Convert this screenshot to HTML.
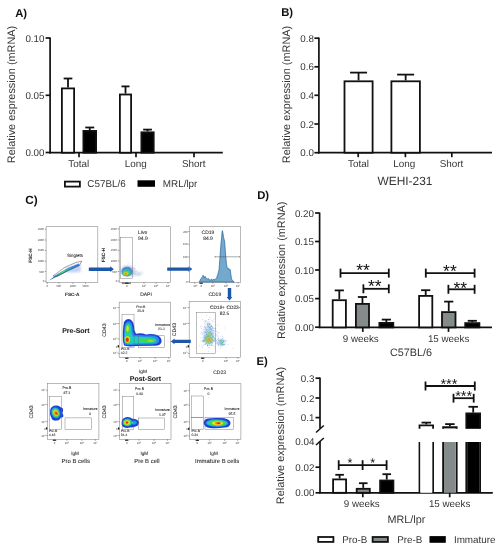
<!DOCTYPE html>
<html><head><meta charset="utf-8"><title>Figure</title>
<style>
html,body{margin:0;padding:0;background:#fff;}
svg{display:block;font-family:"Liberation Sans",Arial,sans-serif;text-rendering:geometricPrecision;}
</style></head><body>
<svg width="500" height="550" viewBox="0 0 500 550">
<defs>
<filter id="b1" x="-30%" y="-30%" width="160%" height="160%"><feGaussianBlur stdDeviation="0.9"/></filter>
<filter id="b2" x="-30%" y="-30%" width="160%" height="160%"><feGaussianBlur stdDeviation="0.5"/></filter>
<filter id="b3" x="-30%" y="-30%" width="160%" height="160%"><feGaussianBlur stdDeviation="1.6"/></filter>
<filter id="soft" x="-5%" y="-5%" width="110%" height="110%"><feGaussianBlur stdDeviation="0.35"/></filter>
</defs>
<rect width="500" height="550" fill="#fff"/>

<g id="panelA">
<text x="15.2" y="16.8" font-size="11.3" text-anchor="start" font-weight="bold" fill="#111">A)</text>
<text x="15" y="94.5" font-size="10.9" text-anchor="middle" font-weight="normal" fill="#363636" transform="rotate(-90 15 94.5)">Relative espression (mRNA)</text>
<line x1="50.1" y1="37.5" x2="50.1" y2="153.5" stroke="#111" stroke-width="1.7" stroke-linecap="butt"/>
<line x1="49.300000000000004" y1="152.7" x2="222.8" y2="152.7" stroke="#111" stroke-width="1.7" stroke-linecap="butt"/>
<line x1="45.6" y1="38" x2="50.1" y2="38" stroke="#111" stroke-width="1.7" stroke-linecap="butt"/>
<text x="44.5" y="41.5" font-size="9.8" text-anchor="end" font-weight="normal" fill="#363636">0.10</text>
<line x1="45.6" y1="95.3" x2="50.1" y2="95.3" stroke="#111" stroke-width="1.7" stroke-linecap="butt"/>
<text x="44.5" y="98.8" font-size="9.8" text-anchor="end" font-weight="normal" fill="#363636">0.05</text>
<line x1="45.6" y1="152.5" x2="50.1" y2="152.5" stroke="#111" stroke-width="1.7" stroke-linecap="butt"/>
<text x="44.5" y="156.0" font-size="9.8" text-anchor="end" font-weight="normal" fill="#363636">0.00</text>
<line x1="79" y1="152.7" x2="79" y2="157.2" stroke="#111" stroke-width="1.7" stroke-linecap="butt"/>
<text x="78.7" y="167.1" font-size="9.9" text-anchor="middle" font-weight="normal" fill="#363636">Total</text>
<line x1="136" y1="152.7" x2="136" y2="157.2" stroke="#111" stroke-width="1.7" stroke-linecap="butt"/>
<text x="135.7" y="167.1" font-size="9.9" text-anchor="middle" font-weight="normal" fill="#363636">Long</text>
<line x1="194" y1="152.7" x2="194" y2="157.2" stroke="#111" stroke-width="1.7" stroke-linecap="butt"/>
<text x="193.7" y="167.1" font-size="9.9" text-anchor="middle" font-weight="normal" fill="#363636">Short</text>
<line x1="68.0" y1="78.5" x2="68.0" y2="87.5" stroke="#111" stroke-width="1.8" stroke-linecap="butt"/>
<line x1="63.66" y1="78.5" x2="72.34" y2="78.5" stroke="#111" stroke-width="1.8" stroke-linecap="butt"/>
<rect x="61.9" y="88.4" width="12.2" height="64.29999999999998" fill="#fff" stroke="#111" stroke-width="1.8"/>
<line x1="89.75" y1="127.5" x2="89.75" y2="130" stroke="#111" stroke-width="1.8" stroke-linecap="butt"/>
<line x1="85.255" y1="127.5" x2="94.245" y2="127.5" stroke="#111" stroke-width="1.8" stroke-linecap="butt"/>
<rect x="83.4" y="130.9" width="12.7" height="21.79999999999999" fill="#000" stroke="#111" stroke-width="1.8"/>
<line x1="125.5" y1="86.4" x2="125.5" y2="93.6" stroke="#111" stroke-width="1.8" stroke-linecap="butt"/>
<line x1="121.47" y1="86.4" x2="129.53" y2="86.4" stroke="#111" stroke-width="1.8" stroke-linecap="butt"/>
<rect x="119.9" y="94.5" width="11.2" height="58.199999999999996" fill="#fff" stroke="#111" stroke-width="1.8"/>
<line x1="147.55" y1="129.6" x2="147.55" y2="131.4" stroke="#111" stroke-width="1.8" stroke-linecap="butt"/>
<line x1="143.179" y1="129.6" x2="151.92100000000002" y2="129.6" stroke="#111" stroke-width="1.8" stroke-linecap="butt"/>
<rect x="141.4" y="132.3" width="12.299999999999994" height="20.399999999999984" fill="#000" stroke="#111" stroke-width="1.8"/>
<rect x="64.9" y="181.6" width="15" height="5" fill="#fff" stroke="#111" stroke-width="1.8"/>
<text x="87.3" y="187.2" font-size="9.9" text-anchor="start" font-weight="normal" fill="#363636">C57BL/6</text>
<rect x="137.5" y="180.3" width="17.5" height="6.5" fill="#000"/>
<text x="162.8" y="186.8" font-size="9.9" text-anchor="start" font-weight="normal" fill="#363636">MRL/lpr</text>
</g>
<g id="panelB">
<text x="281.2" y="15.9" font-size="11.3" text-anchor="start" font-weight="bold" fill="#111">B)</text>
<text x="289.8" y="94.5" font-size="10.9" text-anchor="middle" font-weight="normal" fill="#363636" transform="rotate(-90 289.8 94.5)">Relative expression (mRNA)</text>
<line x1="318.9" y1="37.5" x2="318.9" y2="153.5" stroke="#111" stroke-width="1.7" stroke-linecap="butt"/>
<line x1="318.09999999999997" y1="152.7" x2="492" y2="152.7" stroke="#111" stroke-width="1.7" stroke-linecap="butt"/>
<line x1="314.4" y1="38.2" x2="318.9" y2="38.2" stroke="#111" stroke-width="1.7" stroke-linecap="butt"/>
<text x="313.9" y="41.7" font-size="9.8" text-anchor="end" font-weight="normal" fill="#363636">0.8</text>
<line x1="314.4" y1="66.8" x2="318.9" y2="66.8" stroke="#111" stroke-width="1.7" stroke-linecap="butt"/>
<text x="313.9" y="70.3" font-size="9.8" text-anchor="end" font-weight="normal" fill="#363636">0.6</text>
<line x1="314.4" y1="95.3" x2="318.9" y2="95.3" stroke="#111" stroke-width="1.7" stroke-linecap="butt"/>
<text x="313.9" y="98.8" font-size="9.8" text-anchor="end" font-weight="normal" fill="#363636">0.4</text>
<line x1="314.4" y1="124" x2="318.9" y2="124" stroke="#111" stroke-width="1.7" stroke-linecap="butt"/>
<text x="313.9" y="127.5" font-size="9.8" text-anchor="end" font-weight="normal" fill="#363636">0.2</text>
<line x1="314.4" y1="152.7" x2="318.9" y2="152.7" stroke="#111" stroke-width="1.7" stroke-linecap="butt"/>
<text x="313.9" y="156.2" font-size="9.8" text-anchor="end" font-weight="normal" fill="#363636">0.0</text>
<line x1="358.2" y1="152.7" x2="358.2" y2="157.2" stroke="#111" stroke-width="1.7" stroke-linecap="butt"/>
<text x="358.5" y="167.29999999999998" font-size="9.9" text-anchor="middle" font-weight="normal" fill="#363636">Total</text>
<line x1="405.4" y1="152.7" x2="405.4" y2="157.2" stroke="#111" stroke-width="1.7" stroke-linecap="butt"/>
<text x="404.3" y="167.29999999999998" font-size="9.9" text-anchor="middle" font-weight="normal" fill="#363636">Long</text>
<line x1="451.8" y1="152.7" x2="451.8" y2="157.2" stroke="#111" stroke-width="1.7" stroke-linecap="butt"/>
<text x="451.5" y="167.29999999999998" font-size="9.9" text-anchor="middle" font-weight="normal" fill="#363636">Short</text>
<line x1="358.55" y1="72.6" x2="358.55" y2="80.4" stroke="#111" stroke-width="1.8" stroke-linecap="butt"/>
<line x1="350.05" y1="72.6" x2="367.05" y2="72.6" stroke="#111" stroke-width="1.8" stroke-linecap="butt"/>
<rect x="344.5" y="81.30000000000001" width="28.099999999999977" height="71.39999999999998" fill="#fff" stroke="#111" stroke-width="1.8"/>
<line x1="405.65" y1="74.6" x2="405.65" y2="80.4" stroke="#111" stroke-width="1.8" stroke-linecap="butt"/>
<line x1="397.15" y1="74.6" x2="414.15" y2="74.6" stroke="#111" stroke-width="1.8" stroke-linecap="butt"/>
<rect x="391.4" y="81.30000000000001" width="28.50000000000001" height="71.39999999999998" fill="#fff" stroke="#111" stroke-width="1.8"/>
<text x="405" y="185.2" font-size="11.9" text-anchor="middle" font-weight="normal" fill="#363636">WEHI-231</text>
</g>
<g id="panelC">
<text x="25.3" y="204.2" font-size="11.8" text-anchor="start" font-weight="bold" fill="#111">C)</text>
<rect x="46.1" y="226.7" width="51.699999999999996" height="55.900000000000034" fill="none" stroke="#8a8a8a" stroke-width="0.6"/>
<line x1="44.800000000000004" y1="229.3" x2="46.1" y2="229.3" stroke="#444" stroke-width="0.5" stroke-linecap="butt"/>
<text x="44.2" y="230.3" font-size="2.8" text-anchor="end" font-weight="normal" fill="#3a3a3a">250K</text>
<line x1="44.800000000000004" y1="240" x2="46.1" y2="240" stroke="#444" stroke-width="0.5" stroke-linecap="butt"/>
<text x="44.2" y="241.0" font-size="2.8" text-anchor="end" font-weight="normal" fill="#3a3a3a">200K</text>
<line x1="44.800000000000004" y1="250.4" x2="46.1" y2="250.4" stroke="#444" stroke-width="0.5" stroke-linecap="butt"/>
<text x="44.2" y="251.4" font-size="2.8" text-anchor="end" font-weight="normal" fill="#3a3a3a">150K</text>
<line x1="44.800000000000004" y1="261.3" x2="46.1" y2="261.3" stroke="#444" stroke-width="0.5" stroke-linecap="butt"/>
<text x="44.2" y="262.3" font-size="2.8" text-anchor="end" font-weight="normal" fill="#3a3a3a">100K</text>
<line x1="44.800000000000004" y1="271.5" x2="46.1" y2="271.5" stroke="#444" stroke-width="0.5" stroke-linecap="butt"/>
<text x="44.2" y="272.5" font-size="2.8" text-anchor="end" font-weight="normal" fill="#3a3a3a">50K</text>
<line x1="44.800000000000004" y1="281.3" x2="46.1" y2="281.3" stroke="#444" stroke-width="0.5" stroke-linecap="butt"/>
<text x="44.2" y="282.3" font-size="2.8" text-anchor="end" font-weight="normal" fill="#3a3a3a">0</text>
<line x1="47.4" y1="282.6" x2="47.4" y2="283.90000000000003" stroke="#444" stroke-width="0.5" stroke-linecap="butt"/>
<text x="47.4" y="286.90000000000003" font-size="2.8" text-anchor="middle" font-weight="normal" fill="#3a3a3a">0</text>
<line x1="59" y1="282.6" x2="59" y2="283.90000000000003" stroke="#444" stroke-width="0.5" stroke-linecap="butt"/>
<text x="59" y="286.90000000000003" font-size="2.8" text-anchor="middle" font-weight="normal" fill="#3a3a3a">50K</text>
<line x1="73" y1="282.6" x2="73" y2="283.90000000000003" stroke="#444" stroke-width="0.5" stroke-linecap="butt"/>
<text x="73" y="286.90000000000003" font-size="2.8" text-anchor="middle" font-weight="normal" fill="#3a3a3a">100K</text>
<line x1="85.5" y1="282.6" x2="85.5" y2="283.90000000000003" stroke="#444" stroke-width="0.5" stroke-linecap="butt"/>
<text x="85.5" y="286.90000000000003" font-size="2.8" text-anchor="middle" font-weight="normal" fill="#3a3a3a">150K</text>
<g filter="url(#b1)"><path d="M66 268.5 L78 263.5 L81 266 L80.5 272 L72 272.5 L64 272 Z" fill="#a9bdec" opacity="0.7"/></g>
<g filter="url(#b2)"><path d="M48.6 280.8 L57 274.2 L68 268 L79 263.6 L79.6 265.6 L69 270.6 L58 276.2 Z" fill="#3f7fe2"/><path d="M54 276.8 L62 271.6 L71 267.4 L71 268.8 L62 273.2 Z" fill="#2ac4a6"/><path d="M57.5 274.4 L63 271.2 L67.5 269.2 L63 272.2 Z" fill="#7cdc4c"/></g>
<path d="M53 276 L64 267.8 L76 262.4 L81.8 261.2 L79.4 265.6 L68 270.6 L57 276.4 Z" fill="none" stroke="#333" stroke-width="0.45"/>
<text x="75" y="256.8" font-size="4.5" text-anchor="middle" font-weight="normal" fill="#262626" stroke="#262626" stroke-width="0.07">Singlets</text>
<text x="72.2" y="296" font-size="4.7" text-anchor="middle" font-weight="bold" fill="#262626" stroke="#262626" stroke-width="0.07">FSC-A</text>
<text x="32" y="255.5" font-size="4.7" text-anchor="middle" font-weight="bold" fill="#262626" transform="rotate(-90 32 255.5)" stroke="#262626" stroke-width="0.07">FSC-H</text>
<path d="M88.8 267.5 H110.2 V266.3 L113.9 269.2 L110.2 272.09999999999997 V270.9 H88.8 Z" fill="#1d57a8"/>
<rect x="119.2" y="226.7" width="51.2" height="55.69999999999999" fill="none" stroke="#8a8a8a" stroke-width="0.6"/>
<line x1="117.9" y1="228.8" x2="119.2" y2="228.8" stroke="#444" stroke-width="0.5" stroke-linecap="butt"/>
<text x="117.3" y="229.8" font-size="2.8" text-anchor="end" font-weight="normal" fill="#3a3a3a">250K</text>
<line x1="117.9" y1="240" x2="119.2" y2="240" stroke="#444" stroke-width="0.5" stroke-linecap="butt"/>
<text x="117.3" y="241.0" font-size="2.8" text-anchor="end" font-weight="normal" fill="#3a3a3a">200K</text>
<line x1="117.9" y1="250.4" x2="119.2" y2="250.4" stroke="#444" stroke-width="0.5" stroke-linecap="butt"/>
<text x="117.3" y="251.4" font-size="2.8" text-anchor="end" font-weight="normal" fill="#3a3a3a">150K</text>
<line x1="117.9" y1="261" x2="119.2" y2="261" stroke="#444" stroke-width="0.5" stroke-linecap="butt"/>
<text x="117.3" y="262.0" font-size="2.8" text-anchor="end" font-weight="normal" fill="#3a3a3a">100K</text>
<line x1="117.9" y1="271.5" x2="119.2" y2="271.5" stroke="#444" stroke-width="0.5" stroke-linecap="butt"/>
<text x="117.3" y="272.5" font-size="2.8" text-anchor="end" font-weight="normal" fill="#3a3a3a">50K</text>
<line x1="117.9" y1="281" x2="119.2" y2="281" stroke="#444" stroke-width="0.5" stroke-linecap="butt"/>
<text x="117.3" y="282.0" font-size="2.8" text-anchor="end" font-weight="normal" fill="#3a3a3a">0</text>
<line x1="126.9" y1="282.4" x2="126.9" y2="283.7" stroke="#444" stroke-width="0.5" stroke-linecap="butt"/>
<text x="126.9" y="286.7" font-size="2.8" text-anchor="middle" font-weight="normal" fill="#3a3a3a">0</text>
<rect x="125.10000000000001" y="282.7" width="3.4" height="1.1" fill="#222"/>
<line x1="144" y1="282.4" x2="144" y2="283.7" stroke="#444" stroke-width="0.5" stroke-linecap="butt"/>
<text x="144" y="286.7" font-size="2.8" text-anchor="middle" font-weight="normal" fill="#3a3a3a">10<tspan dy="-1.0" font-size="2">3</tspan></text>
<line x1="156" y1="282.4" x2="156" y2="283.7" stroke="#444" stroke-width="0.5" stroke-linecap="butt"/>
<text x="156" y="286.7" font-size="2.8" text-anchor="middle" font-weight="normal" fill="#3a3a3a">10<tspan dy="-1.0" font-size="2">4</tspan></text>
<line x1="168" y1="282.4" x2="168" y2="283.7" stroke="#444" stroke-width="0.5" stroke-linecap="butt"/>
<text x="168" y="286.7" font-size="2.8" text-anchor="middle" font-weight="normal" fill="#3a3a3a">10<tspan dy="-1.0" font-size="2">5</tspan></text>
<rect x="121.8" y="282.7" width="9.2" height="0.9" fill="#333"/>
<clipPath id="c2"><rect x="119.5" y="255" width="40" height="22.2"/></clipPath><g clip-path="url(#c2)">
<ellipse cx="128" cy="271" rx="7.4" ry="5.6" fill="#a9bdec" opacity="0.75" transform="rotate(0 128 271)" filter="url(#b1)"/>
<ellipse cx="136.5" cy="273.6" rx="5.5" ry="2.2" fill="#b9caf0" opacity="0.6" transform="rotate(0 136.5 273.6)" filter="url(#b1)"/>
<ellipse cx="127" cy="271.6" rx="5.6" ry="4.9" fill="#4a86e2" opacity="1" transform="rotate(0 127 271.6)" filter="url(#b2)"/>
<ellipse cx="126.5" cy="272.6" rx="4.4" ry="3.5" fill="#2ab6b4" opacity="1" transform="rotate(0 126.5 272.6)" filter="url(#b2)"/>
<ellipse cx="126.2" cy="273.1" rx="3.4" ry="2.6" fill="#5cd048" opacity="1" transform="rotate(0 126.2 273.1)" filter="url(#b2)"/>
<ellipse cx="126" cy="273.5" rx="2.2" ry="1.6" fill="#e8cc20" opacity="1" transform="rotate(0 126 273.5)" filter="url(#b2)"/>
<ellipse cx="125.8" cy="273.7" rx="1.2" ry="0.9" fill="#f08a18" opacity="1" transform="rotate(0 125.8 273.7)" filter="url(#b2)"/>
</g>
<g opacity="0.5"><rect x="139.7" y="267.0" width="0.5" height="0.5" fill="#519bc5"/><rect x="120.3" y="276.5" width="0.5" height="0.5" fill="#519bc5"/><rect x="135.0" y="265.0" width="0.5" height="0.5" fill="#519bc5"/><rect x="126.9" y="260.2" width="0.5" height="0.5" fill="#519bc5"/><rect x="127.1" y="264.9" width="0.5" height="0.5" fill="#519bc5"/><rect x="128.8" y="273.9" width="0.5" height="0.5" fill="#519bc5"/><rect x="121.0" y="273.3" width="0.5" height="0.5" fill="#519bc5"/><rect x="137.7" y="269.7" width="0.5" height="0.5" fill="#519bc5"/><rect x="148.8" y="270.4" width="0.5" height="0.5" fill="#519bc5"/><rect x="134.9" y="275.7" width="0.5" height="0.5" fill="#519bc5"/><rect x="122.6" y="266.2" width="0.5" height="0.5" fill="#4f9dc3"/><rect x="124.1" y="265.1" width="0.5" height="0.5" fill="#4f9dc3"/><rect x="135.5" y="268.1" width="0.5" height="0.5" fill="#4d9fc1"/><rect x="141.1" y="270.6" width="0.5" height="0.5" fill="#4ca0bf"/><rect x="134.0" y="268.2" width="0.5" height="0.5" fill="#4ca1bf"/><rect x="143.3" y="272.3" width="0.5" height="0.5" fill="#48a4bb"/><rect x="142.5" y="271.1" width="0.5" height="0.5" fill="#47a6ba"/><rect x="122.0" y="271.3" width="0.5" height="0.5" fill="#46a7b8"/><rect x="132.5" y="267.1" width="0.5" height="0.5" fill="#48aab2"/><rect x="128.7" y="262.1" width="0.5" height="0.5" fill="#48aab2"/><rect x="128.2" y="262.9" width="0.5" height="0.5" fill="#48aab2"/><rect x="138.8" y="275.6" width="0.5" height="0.5" fill="#48aab1"/><rect x="125.4" y="268.7" width="0.5" height="0.5" fill="#49abae"/><rect x="129.1" y="267.6" width="0.5" height="0.5" fill="#4aacac"/><rect x="121.7" y="269.1" width="0.5" height="0.5" fill="#4aacac"/><rect x="126.9" y="270.9" width="0.5" height="0.5" fill="#4aacab"/><rect x="125.6" y="272.7" width="0.5" height="0.5" fill="#4bada9"/><rect x="132.2" y="263.7" width="0.5" height="0.5" fill="#4bada8"/><rect x="131.4" y="263.5" width="0.5" height="0.5" fill="#4bada8"/><rect x="128.1" y="271.0" width="0.5" height="0.5" fill="#4dafa5"/><rect x="127.9" y="268.4" width="0.5" height="0.5" fill="#4dafa3"/><rect x="122.0" y="269.9" width="0.5" height="0.5" fill="#4eb0a0"/><rect x="131.5" y="275.9" width="0.5" height="0.5" fill="#4fb19d"/><rect x="131.1" y="276.3" width="0.5" height="0.5" fill="#4fb19d"/><rect x="141.7" y="274.6" width="0.5" height="0.5" fill="#50b29b"/><rect x="135.4" y="273.5" width="0.5" height="0.5" fill="#51b399"/><rect x="129.1" y="270.2" width="0.5" height="0.5" fill="#52b497"/><rect x="123.5" y="271.9" width="0.5" height="0.5" fill="#53b593"/><rect x="137.0" y="275.7" width="0.5" height="0.5" fill="#54b691"/><rect x="142.1" y="273.3" width="0.5" height="0.5" fill="#55b790"/><rect x="126.6" y="268.8" width="0.5" height="0.5" fill="#56b88c"/><rect x="126.7" y="272.8" width="0.5" height="0.5" fill="#57b989"/><rect x="130.3" y="267.3" width="0.5" height="0.5" fill="#57b989"/><rect x="130.0" y="270.7" width="0.5" height="0.5" fill="#57b989"/><rect x="124.3" y="271.2" width="0.5" height="0.5" fill="#59bb84"/><rect x="123.7" y="270.9" width="0.5" height="0.5" fill="#5abc82"/><rect x="140.0" y="272.6" width="0.5" height="0.5" fill="#5abc82"/><rect x="138.5" y="272.3" width="0.5" height="0.5" fill="#5cbe7d"/><rect x="126.8" y="272.2" width="0.5" height="0.5" fill="#5cbe7d"/><rect x="125.9" y="266.6" width="0.5" height="0.5" fill="#60c271"/><rect x="141.3" y="273.4" width="0.5" height="0.5" fill="#61c370"/><rect x="137.3" y="274.4" width="0.5" height="0.5" fill="#64c46c"/><rect x="137.5" y="275.2" width="0.5" height="0.5" fill="#6ac469"/><rect x="135.1" y="271.5" width="0.5" height="0.5" fill="#6ec468"/><rect x="140.5" y="274.3" width="0.5" height="0.5" fill="#6fc467"/><rect x="127.1" y="267.4" width="0.5" height="0.5" fill="#6fc467"/><rect x="125.7" y="267.1" width="0.5" height="0.5" fill="#72c465"/><rect x="134.8" y="272.9" width="0.5" height="0.5" fill="#74c464"/><rect x="134.2" y="273.2" width="0.5" height="0.5" fill="#7dc460"/><rect x="132.6" y="272.7" width="0.5" height="0.5" fill="#81c45e"/><rect x="136.5" y="271.5" width="0.5" height="0.5" fill="#86c45c"/><rect x="132.7" y="274.1" width="0.5" height="0.5" fill="#87c45b"/><rect x="131.7" y="268.0" width="0.5" height="0.5" fill="#87c45b"/><rect x="133.7" y="271.7" width="0.5" height="0.5" fill="#90c457"/><rect x="139.7" y="274.2" width="0.5" height="0.5" fill="#93c455"/><rect x="137.9" y="273.5" width="0.5" height="0.5" fill="#93c455"/><rect x="138.1" y="273.0" width="0.5" height="0.5" fill="#99c452"/><rect x="136.0" y="271.2" width="0.5" height="0.5" fill="#9ac452"/><rect x="132.6" y="274.0" width="0.5" height="0.5" fill="#9bc451"/><rect x="130.7" y="268.4" width="0.5" height="0.5" fill="#a0c44f"/><rect x="126.6" y="267.5" width="0.5" height="0.5" fill="#a1c44f"/><rect x="133.6" y="272.0" width="0.5" height="0.5" fill="#a1c44e"/><rect x="130.9" y="269.4" width="0.5" height="0.5" fill="#a3c44d"/><rect x="136.2" y="271.5" width="0.5" height="0.5" fill="#a5c44c"/><rect x="131.3" y="268.1" width="0.5" height="0.5" fill="#acc449"/><rect x="130.9" y="269.8" width="0.5" height="0.5" fill="#acc449"/><rect x="132.8" y="273.4" width="0.5" height="0.5" fill="#b8c443"/><rect x="139.1" y="273.7" width="0.5" height="0.5" fill="#c0c43f"/><rect x="139.3" y="273.2" width="0.5" height="0.5" fill="#c4c43d"/><rect x="132.6" y="270.8" width="0.5" height="0.5" fill="#dfa92a"/><rect x="132.5" y="270.9" width="0.5" height="0.5" fill="#e89e23"/><rect x="131.8" y="270.5" width="0.5" height="0.5" fill="#e99d22"/><rect x="131.9" y="270.5" width="0.5" height="0.5" fill="#eb9a21"/><rect x="132.1" y="270.8" width="0.5" height="0.5" fill="#f0961e"/></g>
<rect x="120.2" y="237.3" width="12.30" height="41.10" fill="none" stroke="#666" stroke-width="0.42"/>
<text x="138" y="233.8" font-size="5" text-anchor="start" font-weight="normal" fill="#262626" stroke="#262626" stroke-width="0.07">Live</text>
<text x="138" y="239.6" font-size="5" text-anchor="start" font-weight="normal" fill="#262626" stroke="#262626" stroke-width="0.07">94.9</text>
<text x="146" y="295.8" font-size="5" text-anchor="middle" font-weight="normal" fill="#262626" stroke="#262626" stroke-width="0.07">DAPI</text>
<text x="104.6" y="255" font-size="4.7" text-anchor="middle" font-weight="bold" fill="#262626" transform="rotate(-90 104.6 255)" stroke="#262626" stroke-width="0.07">FSC-H</text>
<path d="M167.2 267.40000000000003 H188.60000000000002 V266.20000000000005 L192.3 269.1 L188.60000000000002 272.0 V270.8 H167.2 Z" fill="#1d57a8"/>
<rect x="189.5" y="226.7" width="51.19999999999999" height="55.69999999999999" fill="none" stroke="#8a8a8a" stroke-width="0.6"/>
<line x1="188.2" y1="231.5" x2="189.5" y2="231.5" stroke="#444" stroke-width="0.5" stroke-linecap="butt"/>
<text x="187.6" y="232.5" font-size="2.8" text-anchor="end" font-weight="normal" fill="#3a3a3a">200</text>
<line x1="188.2" y1="244.3" x2="189.5" y2="244.3" stroke="#444" stroke-width="0.5" stroke-linecap="butt"/>
<text x="187.6" y="245.3" font-size="2.8" text-anchor="end" font-weight="normal" fill="#3a3a3a">150</text>
<line x1="188.2" y1="257" x2="189.5" y2="257" stroke="#444" stroke-width="0.5" stroke-linecap="butt"/>
<text x="187.6" y="258.0" font-size="2.8" text-anchor="end" font-weight="normal" fill="#3a3a3a">100</text>
<line x1="188.2" y1="281.6" x2="189.5" y2="281.6" stroke="#444" stroke-width="0.5" stroke-linecap="butt"/>
<text x="187.6" y="282.6" font-size="2.8" text-anchor="end" font-weight="normal" fill="#3a3a3a">0</text>
<line x1="194.8" y1="282.4" x2="194.8" y2="283.7" stroke="#444" stroke-width="0.5" stroke-linecap="butt"/>
<text x="194.8" y="286.7" font-size="2.8" text-anchor="middle" font-weight="normal" fill="#3a3a3a">-10<tspan dy="-1.0" font-size="2">3</tspan></text>
<line x1="201.2" y1="282.4" x2="201.2" y2="283.7" stroke="#444" stroke-width="0.5" stroke-linecap="butt"/>
<text x="201.2" y="286.7" font-size="2.8" text-anchor="middle" font-weight="normal" fill="#3a3a3a">0</text>
<rect x="199.39999999999998" y="282.7" width="3.4" height="1.1" fill="#222"/>
<line x1="212.9" y1="282.4" x2="212.9" y2="283.7" stroke="#444" stroke-width="0.5" stroke-linecap="butt"/>
<text x="212.9" y="286.7" font-size="2.8" text-anchor="middle" font-weight="normal" fill="#3a3a3a">10<tspan dy="-1.0" font-size="2">3</tspan></text>
<line x1="226" y1="282.4" x2="226" y2="283.7" stroke="#444" stroke-width="0.5" stroke-linecap="butt"/>
<text x="226" y="286.7" font-size="2.8" text-anchor="middle" font-weight="normal" fill="#3a3a3a">10<tspan dy="-1.0" font-size="2">4</tspan></text>
<line x1="238" y1="282.4" x2="238" y2="283.7" stroke="#444" stroke-width="0.5" stroke-linecap="butt"/>
<text x="238" y="286.7" font-size="2.8" text-anchor="middle" font-weight="normal" fill="#3a3a3a">10<tspan dy="-1.0" font-size="2">5</tspan></text>
<path d="M199.3 282.0 L199.9 280.8 L200.6 279.2 L201.1 278.9 L201.5 277.8 L202.0 277.4 L202.5 276.8 L203.0 275.2 L203.6 275.9 L204.2 278.0 L204.8 276.8 L205.4 276.5 L206.0 278.6 L206.6 278.6 L207.1 279.2 L207.6 278.8 L208.0 279.1 L208.5 278.5 L209.0 279.4 L209.5 279.9 L210.0 279.6 L210.5 280.1 L211.0 280.1 L211.5 279.2 L211.9 280.2 L212.4 280.0 L212.9 279.6 L213.4 279.2 L213.9 280.2 L214.5 279.4 L215.0 279.5 L215.6 279.2 L216.2 278.4 L216.7 277.8 L217.1 275.8 L217.6 275.6 L218.1 272.9 L218.5 272.1 L219.0 270.0 L219.8 259.7 L220.4 251.0 L221.0 243.1 L221.5 239.0 L222.0 232.3 L222.4 230.6 L222.9 232.9 L223.6 237.5 L224.2 239.6 L224.7 242.0 L225.3 250.3 L225.8 257.0 L226.4 263.3 L227.0 267.1 L227.8 268.9 L228.6 268.2 L229.4 269.8 L229.9 269.9 L230.3 269.6 L230.9 274.7 L231.5 278.8 L232.1 279.9 L232.6 280.6 L233.2 281.1 L233.7 281.5 L234.3 282.0 Z" fill="#74a8cc" stroke="#25659e" stroke-width="0.7" stroke-linejoin="round"/>
<line x1="215" y1="256.8" x2="239.6" y2="256.8" stroke="#444" stroke-width="0.45" stroke-linecap="butt"/>
<line x1="215" y1="256" x2="215" y2="257.6" stroke="#444" stroke-width="0.45" stroke-linecap="butt"/>
<line x1="239.6" y1="256" x2="239.6" y2="257.6" stroke="#444" stroke-width="0.45" stroke-linecap="butt"/>
<text x="208" y="234.1" font-size="5" text-anchor="middle" font-weight="normal" fill="#262626" stroke="#262626" stroke-width="0.07">CD19</text>
<text x="208" y="240.2" font-size="5" text-anchor="middle" font-weight="normal" fill="#262626" stroke="#262626" stroke-width="0.07">84.9</text>
<text x="214.8" y="295.8" font-size="5" text-anchor="middle" font-weight="normal" fill="#262626" stroke="#262626" stroke-width="0.07">CD19</text>
<path d="M227.8 288 V296.90000000000003 H226.6 L229.5 300.6 L232.4 296.90000000000003 H231.2 V288 Z" fill="#1d57a8"/>
<rect x="119.2" y="302.2" width="51.2" height="55.19999999999999" fill="none" stroke="#8a8a8a" stroke-width="0.6"/>
<line x1="117.9" y1="307.5" x2="119.2" y2="307.5" stroke="#444" stroke-width="0.5" stroke-linecap="butt"/>
<text x="117.3" y="308.5" font-size="2.8" text-anchor="end" font-weight="normal" fill="#3a3a3a">10<tspan dy="-1.0" font-size="2">5</tspan></text>
<line x1="117.9" y1="323.5" x2="119.2" y2="323.5" stroke="#444" stroke-width="0.5" stroke-linecap="butt"/>
<text x="117.3" y="324.5" font-size="2.8" text-anchor="end" font-weight="normal" fill="#3a3a3a">10<tspan dy="-1.0" font-size="2">4</tspan></text>
<line x1="117.9" y1="339" x2="119.2" y2="339" stroke="#444" stroke-width="0.5" stroke-linecap="butt"/>
<text x="117.3" y="340.0" font-size="2.8" text-anchor="end" font-weight="normal" fill="#3a3a3a">10<tspan dy="-1.0" font-size="2">3</tspan></text>
<line x1="117.9" y1="346.5" x2="119.2" y2="346.5" stroke="#444" stroke-width="0.5" stroke-linecap="butt"/>
<text x="117.3" y="347.5" font-size="2.8" text-anchor="end" font-weight="normal" fill="#3a3a3a">0</text>
<rect x="117.7" y="345.2" width="1.3" height="2.2" fill="#222"/>
<line x1="117.9" y1="353.4" x2="119.2" y2="353.4" stroke="#444" stroke-width="0.5" stroke-linecap="butt"/>
<text x="117.3" y="354.4" font-size="2.8" text-anchor="end" font-weight="normal" fill="#3a3a3a">-10<tspan dy="-1.0" font-size="2">3</tspan></text>
<line x1="126.9" y1="357.4" x2="126.9" y2="358.7" stroke="#444" stroke-width="0.5" stroke-linecap="butt"/>
<text x="126.9" y="361.7" font-size="2.8" text-anchor="middle" font-weight="normal" fill="#3a3a3a">0</text>
<rect x="125.10000000000001" y="357.7" width="3.4" height="1.1" fill="#222"/>
<line x1="140" y1="357.4" x2="140" y2="358.7" stroke="#444" stroke-width="0.5" stroke-linecap="butt"/>
<text x="140" y="361.7" font-size="2.8" text-anchor="middle" font-weight="normal" fill="#3a3a3a">10<tspan dy="-1.0" font-size="2">3</tspan></text>
<line x1="155.2" y1="357.4" x2="155.2" y2="358.7" stroke="#444" stroke-width="0.5" stroke-linecap="butt"/>
<text x="155.2" y="361.7" font-size="2.8" text-anchor="middle" font-weight="normal" fill="#3a3a3a">10<tspan dy="-1.0" font-size="2">4</tspan></text>
<line x1="168.8" y1="357.4" x2="168.8" y2="358.7" stroke="#444" stroke-width="0.5" stroke-linecap="butt"/>
<text x="168.8" y="361.7" font-size="2.8" text-anchor="middle" font-weight="normal" fill="#3a3a3a">10<tspan dy="-1.0" font-size="2">5</tspan></text>
<g filter="url(#b2)"><path d="M123 341 Q122.4 330 124 322 Q126.5 317.6 130.5 319.4 Q134.6 322 134.4 330 L136 333.8 Q141 332.6 146 334.4 Q152 333.2 157 335 Q161.8 337 161.6 341.6 Q161 346 154 345.8 L136 346 Q128 347 124 345.6 Z" fill="#1c3fd6"/><path d="M123.8 340 Q123.6 330 125.2 324 Q127 320.4 130 321.6 Q132.8 324 132.8 331 L134.6 335.2 Q141 334.6 146 335.8 Q152 335 156.5 336.6 Q159.6 338.4 159.2 341.4 Q158 344.4 152 344.4 L135 344.8 Q128 345.6 124.8 344.4 Z" fill="#2a8cf0"/><path d="M124.6 340 Q124.6 331 126 326 Q127.6 323 129.6 324 Q131.4 326 131.2 332 L132.6 336.6 Q141 336.4 146 337.2 Q152 337 155 338.4 Q157 339.8 156.4 341.6 Q155 343.2 150 343 L134 343.6 Q128 344.4 125.4 343.2 Z" fill="#1fd0c0"/></g>
<ellipse cx="127.6" cy="328.8" rx="2.2" ry="4.6" fill="#4ad83a" opacity="1" transform="rotate(0 127.6 328.8)" filter="url(#b2)"/>
<ellipse cx="127.6" cy="328.6" rx="1.2" ry="2.9" fill="#d8e428" opacity="1" transform="rotate(0 127.6 328.6)" filter="url(#b2)"/>
<ellipse cx="127.5" cy="339.2" rx="3.1" ry="4.0" fill="#4ad83a" opacity="1" transform="rotate(0 127.5 339.2)" filter="url(#b2)"/>
<ellipse cx="127.4" cy="339.5" rx="2.5" ry="3.2" fill="#f2e21c" opacity="1" transform="rotate(0 127.4 339.5)" filter="url(#b2)"/>
<ellipse cx="127.3" cy="339.7" rx="1.9" ry="2.5" fill="#f5901a" opacity="1" transform="rotate(0 127.3 339.7)" filter="url(#b2)"/>
<ellipse cx="127.2" cy="339.8" rx="1.5" ry="2.0" fill="#ee2a10" opacity="1" transform="rotate(0 127.2 339.8)" filter="url(#b2)"/>
<ellipse cx="147.5" cy="340.4" rx="8.5" ry="2.0" fill="#4ad83a" opacity="1" transform="rotate(3 147.5 340.4)" filter="url(#b2)"/>
<ellipse cx="150.5" cy="340.8" rx="3" ry="0.9" fill="#a8e030" opacity="1" transform="rotate(3 150.5 340.8)" filter="url(#b2)"/>
<rect x="122" y="314.2" width="12.00" height="33.30" fill="none" stroke="#666" stroke-width="0.42"/>
<rect x="138.4" y="335.8" width="26.10" height="11.70" fill="none" stroke="#666" stroke-width="0.42"/>
<text x="140.8" y="307.6" font-size="3.6" text-anchor="middle" font-weight="normal" fill="#303030" stroke="#303030" stroke-width="0.08">Pro-B</text>
<text x="140.8" y="312.4" font-size="3.6" text-anchor="middle" font-weight="normal" fill="#303030" stroke="#303030" stroke-width="0.08">25.9</text>
<text x="162.7" y="326" font-size="3.6" text-anchor="middle" font-weight="normal" fill="#303030" stroke="#303030" stroke-width="0.08">Immature</text>
<text x="161.6" y="330.4" font-size="3.6" text-anchor="middle" font-weight="normal" fill="#303030" stroke="#303030" stroke-width="0.08">21.1</text>
<text x="120.8" y="349.6" font-size="3.4" text-anchor="start" font-weight="normal" fill="#303030" stroke="#303030" stroke-width="0.08">Pre-B</text>
<text x="120.8" y="353.6" font-size="3.4" text-anchor="start" font-weight="normal" fill="#303030" stroke="#303030" stroke-width="0.08">42.2</text>
<text x="142.9" y="372.5" font-size="4.8" text-anchor="middle" font-weight="normal" fill="#262626" stroke="#262626" stroke-width="0.07">IgM</text>
<text x="106.3" y="330" font-size="5.2" text-anchor="middle" font-weight="normal" fill="#262626" transform="rotate(-90 106.3 330)" stroke="#262626" stroke-width="0.07">CD43</text>
<text x="89.6" y="333.2" font-size="6.95" text-anchor="end" font-weight="bold" fill="#1a1a1a" stroke="#1a1a1a" stroke-width="0.07">Pre-Sort</text>
<rect x="189.2" y="301.6" width="51.20000000000002" height="55.799999999999955" fill="none" stroke="#8a8a8a" stroke-width="0.6"/>
<line x1="187.89999999999998" y1="307.5" x2="189.2" y2="307.5" stroke="#444" stroke-width="0.5" stroke-linecap="butt"/>
<text x="187.29999999999998" y="308.5" font-size="2.8" text-anchor="end" font-weight="normal" fill="#3a3a3a">10<tspan dy="-1.0" font-size="2">5</tspan></text>
<line x1="187.89999999999998" y1="323.5" x2="189.2" y2="323.5" stroke="#444" stroke-width="0.5" stroke-linecap="butt"/>
<text x="187.29999999999998" y="324.5" font-size="2.8" text-anchor="end" font-weight="normal" fill="#3a3a3a">10<tspan dy="-1.0" font-size="2">4</tspan></text>
<line x1="187.89999999999998" y1="346.5" x2="189.2" y2="346.5" stroke="#444" stroke-width="0.5" stroke-linecap="butt"/>
<text x="187.29999999999998" y="347.5" font-size="2.8" text-anchor="end" font-weight="normal" fill="#3a3a3a">0</text>
<line x1="187.89999999999998" y1="353.4" x2="189.2" y2="353.4" stroke="#444" stroke-width="0.5" stroke-linecap="butt"/>
<text x="187.29999999999998" y="354.4" font-size="2.8" text-anchor="end" font-weight="normal" fill="#3a3a3a">-10<tspan dy="-1.0" font-size="2">3</tspan></text>
<line x1="202.8" y1="357.4" x2="202.8" y2="358.7" stroke="#444" stroke-width="0.5" stroke-linecap="butt"/>
<text x="202.8" y="361.7" font-size="2.8" text-anchor="middle" font-weight="normal" fill="#3a3a3a">0</text>
<rect x="201.0" y="357.7" width="3.4" height="1.1" fill="#222"/>
<line x1="226" y1="357.4" x2="226" y2="358.7" stroke="#444" stroke-width="0.5" stroke-linecap="butt"/>
<text x="226" y="361.7" font-size="2.8" text-anchor="middle" font-weight="normal" fill="#3a3a3a">10<tspan dy="-1.0" font-size="2">4</tspan></text>
<line x1="238" y1="357.4" x2="238" y2="358.7" stroke="#444" stroke-width="0.5" stroke-linecap="butt"/>
<text x="238" y="361.7" font-size="2.8" text-anchor="middle" font-weight="normal" fill="#3a3a3a">10<tspan dy="-1.0" font-size="2">5</tspan></text>
<rect x="187.7" y="345.2" width="1.3" height="2.2" fill="#222"/>
<ellipse cx="208.8" cy="333.5" rx="5.6" ry="9.5" fill="#b4c4ea" opacity="0.55" transform="rotate(0 208.8 333.5)" filter="url(#b1)"/>
<ellipse cx="221" cy="342.5" rx="4.0" ry="3.4" fill="#b4c4ea" opacity="0.6" transform="rotate(0 221 342.5)" filter="url(#b1)"/>
<ellipse cx="208.6" cy="339.6" rx="4.2" ry="3.6" fill="#6fb0b8" opacity="0.6" transform="rotate(0 208.6 339.6)" filter="url(#b1)"/>
<g opacity="0.92"><rect x="201.2" y="328.5" width="0.6" height="0.6" fill="#7d9adc"/><rect x="215.7" y="325.2" width="0.6" height="0.6" fill="#7d9adc"/><rect x="199.4" y="345.5" width="0.6" height="0.6" fill="#7d9adc"/><rect x="214.6" y="318.2" width="0.6" height="0.6" fill="#7d9adc"/><rect x="214.7" y="348.6" width="0.6" height="0.6" fill="#7d9adc"/><rect x="196.0" y="347.3" width="0.6" height="0.6" fill="#7d9adc"/><rect x="218.1" y="324.7" width="0.6" height="0.6" fill="#7d9adc"/><rect x="215.6" y="315.8" width="0.6" height="0.6" fill="#7d9adc"/><rect x="208.0" y="351.0" width="0.6" height="0.6" fill="#7d9adc"/><rect x="196.5" y="324.5" width="0.6" height="0.6" fill="#7d9adc"/><rect x="200.5" y="337.7" width="0.6" height="0.6" fill="#7d9adc"/><rect x="202.0" y="319.1" width="0.6" height="0.6" fill="#7d9adc"/><rect x="206.0" y="315.4" width="0.6" height="0.6" fill="#7d9adc"/><rect x="224.6" y="327.7" width="0.6" height="0.6" fill="#7d9adc"/><rect x="227.6" y="344.5" width="0.6" height="0.6" fill="#7d9adc"/><rect x="232.6" y="348.4" width="0.6" height="0.6" fill="#7d9adc"/><rect x="209.5" y="317.0" width="0.6" height="0.6" fill="#7b99dc"/><rect x="220.5" y="348.3" width="0.6" height="0.6" fill="#7b99dc"/><rect x="201.3" y="331.9" width="0.6" height="0.6" fill="#7a98db"/><rect x="202.4" y="347.1" width="0.6" height="0.6" fill="#7a98db"/><rect x="220.6" y="335.8" width="0.6" height="0.6" fill="#7a98db"/><rect x="222.2" y="335.9" width="0.6" height="0.6" fill="#7a98db"/><rect x="213.9" y="346.1" width="0.6" height="0.6" fill="#7a98db"/><rect x="218.7" y="332.3" width="0.6" height="0.6" fill="#7a98db"/><rect x="220.3" y="346.6" width="0.6" height="0.6" fill="#7a98db"/><rect x="223.5" y="337.5" width="0.6" height="0.6" fill="#7a98db"/><rect x="213.7" y="321.1" width="0.6" height="0.6" fill="#7a98db"/><rect x="214.7" y="330.3" width="0.6" height="0.6" fill="#7998db"/><rect x="203.8" y="329.2" width="0.6" height="0.6" fill="#7998db"/><rect x="226.7" y="340.1" width="0.6" height="0.6" fill="#7998db"/><rect x="200.5" y="340.7" width="0.6" height="0.6" fill="#7998db"/><rect x="201.5" y="345.8" width="0.6" height="0.6" fill="#7998db"/><rect x="212.0" y="321.6" width="0.6" height="0.6" fill="#7998db"/><rect x="200.4" y="326.5" width="0.6" height="0.6" fill="#7898db"/><rect x="201.5" y="325.8" width="0.6" height="0.6" fill="#7898db"/><rect x="205.1" y="324.6" width="0.6" height="0.6" fill="#7898db"/><rect x="203.0" y="344.8" width="0.6" height="0.6" fill="#7897db"/><rect x="215.7" y="334.0" width="0.6" height="0.6" fill="#7897db"/><rect x="216.8" y="336.4" width="0.6" height="0.6" fill="#7797db"/><rect x="218.4" y="336.8" width="0.6" height="0.6" fill="#7797db"/><rect x="204.4" y="323.4" width="0.6" height="0.6" fill="#7797db"/><rect x="209.8" y="318.7" width="0.6" height="0.6" fill="#7696db"/><rect x="200.7" y="333.8" width="0.6" height="0.6" fill="#7696da"/><rect x="203.5" y="321.4" width="0.6" height="0.6" fill="#7696da"/><rect x="212.8" y="319.6" width="0.6" height="0.6" fill="#7596da"/><rect x="216.4" y="331.2" width="0.6" height="0.6" fill="#7596da"/><rect x="209.4" y="347.7" width="0.6" height="0.6" fill="#7596da"/><rect x="208.4" y="347.3" width="0.6" height="0.6" fill="#7596da"/><rect x="222.1" y="338.0" width="0.6" height="0.6" fill="#7596da"/><rect x="217.5" y="333.8" width="0.6" height="0.6" fill="#7495da"/><rect x="211.7" y="320.1" width="0.6" height="0.6" fill="#7495da"/><rect x="202.8" y="332.8" width="0.6" height="0.6" fill="#7495da"/><rect x="201.9" y="333.8" width="0.6" height="0.6" fill="#7395da"/><rect x="217.0" y="332.2" width="0.6" height="0.6" fill="#7395da"/><rect x="215.7" y="343.6" width="0.6" height="0.6" fill="#7294da"/><rect x="216.8" y="334.9" width="0.6" height="0.6" fill="#7294da"/><rect x="208.5" y="321.4" width="0.6" height="0.6" fill="#7094d9"/><rect x="216.4" y="341.1" width="0.6" height="0.6" fill="#7094d9"/><rect x="213.9" y="327.8" width="0.6" height="0.6" fill="#6f93d9"/><rect x="205.7" y="320.0" width="0.6" height="0.6" fill="#6f93d9"/><rect x="213.8" y="335.1" width="0.6" height="0.6" fill="#6e93d9"/><rect x="204.2" y="326.3" width="0.6" height="0.6" fill="#6e93d9"/><rect x="210.6" y="323.3" width="0.6" height="0.6" fill="#6d92d9"/><rect x="208.0" y="319.5" width="0.6" height="0.6" fill="#6d92d8"/><rect x="215.9" y="342.7" width="0.6" height="0.6" fill="#6c92d8"/><rect x="204.8" y="320.2" width="0.6" height="0.6" fill="#6c92d8"/><rect x="207.1" y="326.9" width="0.6" height="0.6" fill="#6c92d8"/><rect x="205.4" y="327.1" width="0.6" height="0.6" fill="#6b91d8"/><rect x="212.8" y="344.9" width="0.6" height="0.6" fill="#6b91d8"/><rect x="208.5" y="319.2" width="0.6" height="0.6" fill="#6b91d8"/><rect x="215.5" y="328.5" width="0.6" height="0.6" fill="#6a90d8"/><rect x="215.2" y="328.4" width="0.6" height="0.6" fill="#6890d7"/><rect x="203.8" y="335.1" width="0.6" height="0.6" fill="#688fd7"/><rect x="204.6" y="327.0" width="0.6" height="0.6" fill="#678fd7"/><rect x="218.3" y="338.3" width="0.6" height="0.6" fill="#678fd7"/><rect x="202.6" y="337.0" width="0.6" height="0.6" fill="#678fd7"/><rect x="205.2" y="328.6" width="0.6" height="0.6" fill="#668fd7"/><rect x="217.3" y="339.3" width="0.6" height="0.6" fill="#668fd7"/><rect x="225.3" y="341.0" width="0.6" height="0.6" fill="#658ed7"/><rect x="215.9" y="340.1" width="0.6" height="0.6" fill="#658ed7"/><rect x="204.4" y="332.8" width="0.6" height="0.6" fill="#648ed6"/><rect x="204.8" y="321.6" width="0.6" height="0.6" fill="#638dd6"/><rect x="210.3" y="345.3" width="0.6" height="0.6" fill="#638dd6"/><rect x="205.3" y="321.8" width="0.6" height="0.6" fill="#638dd6"/><rect x="207.3" y="328.9" width="0.6" height="0.6" fill="#638dd6"/><rect x="202.9" y="336.9" width="0.6" height="0.6" fill="#638dd6"/><rect x="206.6" y="321.5" width="0.6" height="0.6" fill="#638dd6"/><rect x="212.7" y="332.2" width="0.6" height="0.6" fill="#638dd6"/><rect x="204.4" y="344.0" width="0.6" height="0.6" fill="#628dd6"/><rect x="206.8" y="321.8" width="0.6" height="0.6" fill="#628dd6"/><rect x="212.5" y="326.6" width="0.6" height="0.6" fill="#608cd6"/><rect x="217.8" y="338.7" width="0.6" height="0.6" fill="#608cd6"/><rect x="214.7" y="341.1" width="0.6" height="0.6" fill="#608cd6"/><rect x="214.0" y="341.6" width="0.6" height="0.6" fill="#5f8cd5"/><rect x="204.4" y="331.6" width="0.6" height="0.6" fill="#5f8cd5"/><rect x="205.0" y="331.0" width="0.6" height="0.6" fill="#5f8cd5"/><rect x="211.4" y="325.3" width="0.6" height="0.6" fill="#5f8cd5"/><rect x="225.1" y="340.6" width="0.6" height="0.6" fill="#5f8cd5"/><rect x="218.2" y="344.8" width="0.6" height="0.6" fill="#5e8dd4"/><rect x="209.0" y="345.0" width="0.6" height="0.6" fill="#5e8dd3"/><rect x="224.6" y="343.9" width="0.6" height="0.6" fill="#5d8ed3"/><rect x="205.7" y="329.2" width="0.6" height="0.6" fill="#5d8ed3"/><rect x="205.4" y="344.4" width="0.6" height="0.6" fill="#5d8ed3"/><rect x="218.2" y="344.7" width="0.6" height="0.6" fill="#5d8ed3"/><rect x="215.2" y="338.1" width="0.6" height="0.6" fill="#5d8ed3"/><rect x="212.7" y="330.8" width="0.6" height="0.6" fill="#5d8ed3"/><rect x="212.9" y="333.0" width="0.6" height="0.6" fill="#5d8ed2"/><rect x="212.7" y="330.4" width="0.6" height="0.6" fill="#5c8fd2"/><rect x="212.7" y="330.4" width="0.6" height="0.6" fill="#5c8fd2"/><rect x="211.3" y="345.2" width="0.6" height="0.6" fill="#5b90d1"/><rect x="204.7" y="343.5" width="0.6" height="0.6" fill="#5b90d1"/><rect x="219.1" y="343.7" width="0.6" height="0.6" fill="#5b91d0"/><rect x="217.8" y="344.0" width="0.6" height="0.6" fill="#5b91d0"/><rect x="217.4" y="343.4" width="0.6" height="0.6" fill="#5a91d0"/><rect x="214.2" y="337.3" width="0.6" height="0.6" fill="#5a91d0"/><rect x="206.4" y="329.5" width="0.6" height="0.6" fill="#5a91cf"/><rect x="212.0" y="344.7" width="0.6" height="0.6" fill="#5a92cf"/><rect x="212.6" y="328.0" width="0.6" height="0.6" fill="#5a92cf"/><rect x="224.4" y="344.0" width="0.6" height="0.6" fill="#5a92cf"/><rect x="217.6" y="342.6" width="0.6" height="0.6" fill="#5a92cf"/><rect x="206.2" y="330.1" width="0.6" height="0.6" fill="#5992ce"/><rect x="217.8" y="342.6" width="0.6" height="0.6" fill="#5992ce"/><rect x="210.9" y="330.8" width="0.6" height="0.6" fill="#5992ce"/><rect x="204.7" y="335.1" width="0.6" height="0.6" fill="#5992ce"/><rect x="224.2" y="340.1" width="0.6" height="0.6" fill="#5992ce"/><rect x="212.5" y="327.4" width="0.6" height="0.6" fill="#5993ce"/><rect x="207.8" y="330.0" width="0.6" height="0.6" fill="#5993ce"/><rect x="203.4" y="341.9" width="0.6" height="0.6" fill="#5993ce"/><rect x="207.4" y="325.5" width="0.6" height="0.6" fill="#5993ce"/><rect x="209.3" y="322.7" width="0.6" height="0.6" fill="#5993ce"/><rect x="212.3" y="342.8" width="0.6" height="0.6" fill="#5893cd"/><rect x="215.1" y="339.7" width="0.6" height="0.6" fill="#5893cd"/><rect x="206.2" y="330.9" width="0.6" height="0.6" fill="#5893cd"/><rect x="218.4" y="340.0" width="0.6" height="0.6" fill="#5894cc"/><rect x="206.9" y="323.3" width="0.6" height="0.6" fill="#5894cc"/><rect x="203.8" y="338.3" width="0.6" height="0.6" fill="#5794cc"/><rect x="211.3" y="344.7" width="0.6" height="0.6" fill="#5794cc"/><rect x="218.5" y="342.1" width="0.6" height="0.6" fill="#5794cc"/><rect x="205.1" y="332.1" width="0.6" height="0.6" fill="#5795cc"/><rect x="211.8" y="327.7" width="0.6" height="0.6" fill="#5795cc"/><rect x="207.6" y="325.0" width="0.6" height="0.6" fill="#5795cb"/><rect x="208.7" y="329.9" width="0.6" height="0.6" fill="#5795cb"/><rect x="210.0" y="324.5" width="0.6" height="0.6" fill="#5795cb"/><rect x="215.0" y="338.9" width="0.6" height="0.6" fill="#5795cb"/><rect x="218.4" y="340.3" width="0.6" height="0.6" fill="#5795cb"/><rect x="221.8" y="345.0" width="0.6" height="0.6" fill="#5696cb"/><rect x="205.3" y="332.3" width="0.6" height="0.6" fill="#5696ca"/><rect x="213.1" y="341.6" width="0.6" height="0.6" fill="#5696ca"/><rect x="207.2" y="330.9" width="0.6" height="0.6" fill="#5696ca"/><rect x="223.9" y="344.5" width="0.6" height="0.6" fill="#5696ca"/><rect x="208.8" y="329.4" width="0.6" height="0.6" fill="#5696ca"/><rect x="222.7" y="339.5" width="0.6" height="0.6" fill="#5696ca"/><rect x="211.9" y="328.4" width="0.6" height="0.6" fill="#5696ca"/><rect x="204.1" y="336.4" width="0.6" height="0.6" fill="#5696ca"/><rect x="214.3" y="338.1" width="0.6" height="0.6" fill="#5597ca"/><rect x="209.2" y="344.2" width="0.6" height="0.6" fill="#5597c9"/><rect x="208.8" y="329.1" width="0.6" height="0.6" fill="#5597c9"/><rect x="211.6" y="343.5" width="0.6" height="0.6" fill="#5597c9"/><rect x="220.4" y="339.3" width="0.6" height="0.6" fill="#5497c9"/><rect x="207.2" y="323.2" width="0.6" height="0.6" fill="#5498c8"/><rect x="211.1" y="343.7" width="0.6" height="0.6" fill="#5498c8"/><rect x="218.7" y="340.5" width="0.6" height="0.6" fill="#5398c8"/><rect x="207.3" y="323.9" width="0.6" height="0.6" fill="#5399c8"/><rect x="208.5" y="322.8" width="0.6" height="0.6" fill="#5399c7"/><rect x="211.1" y="326.1" width="0.6" height="0.6" fill="#5399c7"/><rect x="208.8" y="328.2" width="0.6" height="0.6" fill="#5399c7"/><rect x="206.2" y="332.2" width="0.6" height="0.6" fill="#5399c7"/><rect x="207.4" y="331.3" width="0.6" height="0.6" fill="#5399c7"/><rect x="208.2" y="325.7" width="0.6" height="0.6" fill="#529ac6"/><rect x="208.4" y="326.9" width="0.6" height="0.6" fill="#529ac6"/><rect x="210.0" y="343.6" width="0.6" height="0.6" fill="#529ac6"/><rect x="212.8" y="335.8" width="0.6" height="0.6" fill="#529ac6"/><rect x="207.0" y="345.7" width="0.6" height="0.6" fill="#529ac6"/><rect x="208.6" y="325.8" width="0.6" height="0.6" fill="#529ac6"/><rect x="205.7" y="343.5" width="0.6" height="0.6" fill="#529ac6"/><rect x="207.4" y="323.8" width="0.6" height="0.6" fill="#529ac6"/><rect x="214.2" y="338.5" width="0.6" height="0.6" fill="#529ac6"/><rect x="208.4" y="326.3" width="0.6" height="0.6" fill="#529ac6"/><rect x="210.1" y="330.8" width="0.6" height="0.6" fill="#529ac6"/><rect x="210.7" y="325.9" width="0.6" height="0.6" fill="#529ac5"/><rect x="211.2" y="329.6" width="0.6" height="0.6" fill="#519bc5"/><rect x="209.9" y="330.8" width="0.6" height="0.6" fill="#519bc5"/><rect x="210.8" y="326.2" width="0.6" height="0.6" fill="#519bc5"/><rect x="202.1" y="340.8" width="0.6" height="0.6" fill="#519cc4"/><rect x="213.4" y="336.5" width="0.6" height="0.6" fill="#519cc4"/><rect x="205.5" y="334.6" width="0.6" height="0.6" fill="#519cc4"/><rect x="208.4" y="323.0" width="0.6" height="0.6" fill="#519cc4"/><rect x="212.6" y="334.2" width="0.6" height="0.6" fill="#509cc4"/><rect x="219.0" y="341.7" width="0.6" height="0.6" fill="#509cc4"/><rect x="210.2" y="326.2" width="0.6" height="0.6" fill="#509cc4"/><rect x="205.7" y="343.0" width="0.6" height="0.6" fill="#509dc3"/><rect x="222.9" y="344.6" width="0.6" height="0.6" fill="#4f9dc3"/><rect x="222.9" y="339.9" width="0.6" height="0.6" fill="#4f9dc3"/><rect x="209.1" y="323.3" width="0.6" height="0.6" fill="#4f9dc3"/><rect x="209.3" y="324.5" width="0.6" height="0.6" fill="#4f9dc2"/><rect x="223.4" y="344.3" width="0.6" height="0.6" fill="#4f9ec2"/><rect x="202.2" y="340.8" width="0.6" height="0.6" fill="#4e9ec2"/><rect x="213.0" y="337.2" width="0.6" height="0.6" fill="#4e9ec2"/><rect x="207.7" y="345.4" width="0.6" height="0.6" fill="#4e9ec1"/><rect x="202.9" y="339.6" width="0.6" height="0.6" fill="#4e9ec1"/><rect x="206.5" y="343.6" width="0.6" height="0.6" fill="#4e9ec1"/><rect x="206.6" y="332.4" width="0.6" height="0.6" fill="#4e9fc1"/><rect x="220.9" y="344.8" width="0.6" height="0.6" fill="#4e9fc1"/><rect x="206.9" y="345.4" width="0.6" height="0.6" fill="#4d9fc0"/><rect x="209.1" y="324.5" width="0.6" height="0.6" fill="#4d9fc0"/><rect x="220.8" y="339.4" width="0.6" height="0.6" fill="#4d9fc0"/><rect x="212.0" y="342.3" width="0.6" height="0.6" fill="#4d9fc0"/><rect x="211.9" y="335.8" width="0.6" height="0.6" fill="#4d9fc0"/><rect x="209.2" y="324.3" width="0.6" height="0.6" fill="#4d9fc0"/><rect x="213.2" y="336.7" width="0.6" height="0.6" fill="#4da0c0"/><rect x="202.4" y="340.1" width="0.6" height="0.6" fill="#4ca0bf"/><rect x="211.1" y="328.9" width="0.6" height="0.6" fill="#4ca1bf"/><rect x="210.6" y="329.3" width="0.6" height="0.6" fill="#4ca1bf"/><rect x="223.1" y="344.0" width="0.6" height="0.6" fill="#4ca1bf"/><rect x="210.1" y="327.2" width="0.6" height="0.6" fill="#4ca1bf"/><rect x="203.2" y="339.6" width="0.6" height="0.6" fill="#4ca1bf"/><rect x="205.7" y="334.5" width="0.6" height="0.6" fill="#4ca1bf"/><rect x="222.4" y="340.0" width="0.6" height="0.6" fill="#4ca1bf"/><rect x="207.2" y="344.1" width="0.6" height="0.6" fill="#4ca1bf"/><rect x="208.7" y="324.0" width="0.6" height="0.6" fill="#4ba1be"/><rect x="209.8" y="326.8" width="0.6" height="0.6" fill="#4ba1be"/><rect x="212.0" y="336.5" width="0.6" height="0.6" fill="#4ba1be"/><rect x="209.0" y="327.4" width="0.6" height="0.6" fill="#4ba1be"/><rect x="207.2" y="345.4" width="0.6" height="0.6" fill="#4ba2be"/><rect x="204.2" y="341.0" width="0.6" height="0.6" fill="#4ba2be"/><rect x="210.3" y="328.5" width="0.6" height="0.6" fill="#4ba2be"/><rect x="210.0" y="328.0" width="0.6" height="0.6" fill="#4ba2bd"/><rect x="208.7" y="331.2" width="0.6" height="0.6" fill="#4aa2bd"/><rect x="220.8" y="344.6" width="0.6" height="0.6" fill="#4aa2bd"/><rect x="221.2" y="339.6" width="0.6" height="0.6" fill="#4aa2bd"/><rect x="212.9" y="336.6" width="0.6" height="0.6" fill="#4aa2bd"/><rect x="209.4" y="343.4" width="0.6" height="0.6" fill="#4aa2bd"/><rect x="204.8" y="336.1" width="0.6" height="0.6" fill="#4aa2bd"/><rect x="204.2" y="339.2" width="0.6" height="0.6" fill="#4aa2bd"/><rect x="223.7" y="340.7" width="0.6" height="0.6" fill="#4aa2bd"/><rect x="219.8" y="342.7" width="0.6" height="0.6" fill="#4aa3bd"/><rect x="207.5" y="345.1" width="0.6" height="0.6" fill="#4aa3bd"/><rect x="207.1" y="345.0" width="0.6" height="0.6" fill="#4aa3bc"/><rect x="219.6" y="340.4" width="0.6" height="0.6" fill="#4aa3bc"/><rect x="210.8" y="329.0" width="0.6" height="0.6" fill="#4aa3bc"/><rect x="209.2" y="327.6" width="0.6" height="0.6" fill="#49a3bc"/><rect x="210.6" y="329.0" width="0.6" height="0.6" fill="#49a3bc"/><rect x="208.5" y="343.8" width="0.6" height="0.6" fill="#49a3bc"/><rect x="212.3" y="337.0" width="0.6" height="0.6" fill="#49a4bc"/><rect x="205.9" y="342.6" width="0.6" height="0.6" fill="#49a4bc"/><rect x="203.0" y="341.3" width="0.6" height="0.6" fill="#49a4bb"/><rect x="207.6" y="343.9" width="0.6" height="0.6" fill="#49a4bb"/><rect x="219.6" y="341.4" width="0.6" height="0.6" fill="#48a4bb"/><rect x="212.0" y="333.3" width="0.6" height="0.6" fill="#48a5bb"/><rect x="209.5" y="327.5" width="0.6" height="0.6" fill="#48a5ba"/><rect x="205.1" y="341.1" width="0.6" height="0.6" fill="#48a5ba"/><rect x="219.9" y="340.1" width="0.6" height="0.6" fill="#48a5ba"/><rect x="210.8" y="332.3" width="0.6" height="0.6" fill="#47a6b9"/><rect x="209.7" y="342.8" width="0.6" height="0.6" fill="#47a6b9"/><rect x="219.9" y="342.3" width="0.6" height="0.6" fill="#47a6b9"/><rect x="206.0" y="335.4" width="0.6" height="0.6" fill="#47a6b9"/><rect x="203.3" y="341.2" width="0.6" height="0.6" fill="#47a6b9"/><rect x="222.6" y="344.2" width="0.6" height="0.6" fill="#46a6b9"/><rect x="219.9" y="341.9" width="0.6" height="0.6" fill="#46a7b9"/><rect x="203.9" y="340.8" width="0.6" height="0.6" fill="#46a7b8"/><rect x="213.8" y="339.3" width="0.6" height="0.6" fill="#46a7b8"/><rect x="203.7" y="339.9" width="0.6" height="0.6" fill="#46a7b8"/><rect x="206.0" y="333.9" width="0.6" height="0.6" fill="#46a7b8"/><rect x="223.5" y="340.8" width="0.6" height="0.6" fill="#46a7b8"/><rect x="211.9" y="341.6" width="0.6" height="0.6" fill="#46a7b8"/><rect x="204.4" y="340.1" width="0.6" height="0.6" fill="#46a7b8"/><rect x="210.5" y="332.0" width="0.6" height="0.6" fill="#46a8b7"/><rect x="212.2" y="333.9" width="0.6" height="0.6" fill="#46a8b7"/><rect x="209.3" y="331.4" width="0.6" height="0.6" fill="#46a8b7"/><rect x="207.6" y="332.0" width="0.6" height="0.6" fill="#46a8b6"/><rect x="204.6" y="337.3" width="0.6" height="0.6" fill="#47a9b5"/><rect x="204.6" y="337.4" width="0.6" height="0.6" fill="#47a9b4"/><rect x="223.4" y="340.9" width="0.6" height="0.6" fill="#47a9b3"/><rect x="223.0" y="342.1" width="0.6" height="0.6" fill="#47a9b2"/><rect x="210.7" y="342.6" width="0.6" height="0.6" fill="#47a9b2"/><rect x="220.1" y="341.3" width="0.6" height="0.6" fill="#47a9b2"/><rect x="206.1" y="334.0" width="0.6" height="0.6" fill="#48aab2"/><rect x="220.2" y="343.6" width="0.6" height="0.6" fill="#48aab1"/><rect x="211.8" y="335.1" width="0.6" height="0.6" fill="#48aab1"/><rect x="221.1" y="344.4" width="0.6" height="0.6" fill="#48aab0"/><rect x="202.9" y="340.4" width="0.6" height="0.6" fill="#49abaf"/><rect x="213.9" y="339.9" width="0.6" height="0.6" fill="#49abaf"/><rect x="210.0" y="331.8" width="0.6" height="0.6" fill="#49abaf"/><rect x="206.6" y="333.2" width="0.6" height="0.6" fill="#49abae"/><rect x="208.6" y="343.4" width="0.6" height="0.6" fill="#49abae"/><rect x="210.7" y="342.5" width="0.6" height="0.6" fill="#49abae"/><rect x="210.6" y="342.4" width="0.6" height="0.6" fill="#49abae"/><rect x="213.8" y="339.9" width="0.6" height="0.6" fill="#4aacac"/><rect x="203.2" y="340.7" width="0.6" height="0.6" fill="#4aacab"/><rect x="223.0" y="340.7" width="0.6" height="0.6" fill="#4aacab"/><rect x="222.3" y="344.0" width="0.6" height="0.6" fill="#4aacab"/><rect x="220.4" y="340.1" width="0.6" height="0.6" fill="#4aacab"/><rect x="211.2" y="342.1" width="0.6" height="0.6" fill="#4aacaa"/><rect x="220.5" y="343.9" width="0.6" height="0.6" fill="#4badaa"/><rect x="206.4" y="342.6" width="0.6" height="0.6" fill="#4bada8"/><rect x="212.4" y="341.1" width="0.6" height="0.6" fill="#4caea7"/><rect x="206.4" y="333.8" width="0.6" height="0.6" fill="#4dafa5"/><rect x="204.8" y="338.9" width="0.6" height="0.6" fill="#4dafa4"/><rect x="220.4" y="343.3" width="0.6" height="0.6" fill="#4dafa4"/><rect x="204.8" y="338.0" width="0.6" height="0.6" fill="#4dafa4"/><rect x="213.7" y="339.8" width="0.6" height="0.6" fill="#4dafa3"/><rect x="221.3" y="340.3" width="0.6" height="0.6" fill="#4eb0a2"/><rect x="211.3" y="337.1" width="0.6" height="0.6" fill="#4eb0a1"/><rect x="205.5" y="341.2" width="0.6" height="0.6" fill="#4eb0a1"/><rect x="211.2" y="341.7" width="0.6" height="0.6" fill="#4eb0a1"/><rect x="223.0" y="341.6" width="0.6" height="0.6" fill="#4eb0a0"/><rect x="222.0" y="343.9" width="0.6" height="0.6" fill="#4fb19f"/><rect x="208.8" y="331.8" width="0.6" height="0.6" fill="#50b29c"/><rect x="210.9" y="333.0" width="0.6" height="0.6" fill="#50b29b"/><rect x="220.7" y="340.7" width="0.6" height="0.6" fill="#51b39a"/><rect x="210.7" y="332.8" width="0.6" height="0.6" fill="#51b398"/><rect x="220.9" y="340.6" width="0.6" height="0.6" fill="#52b497"/><rect x="206.7" y="333.8" width="0.6" height="0.6" fill="#52b496"/><rect x="220.7" y="343.6" width="0.6" height="0.6" fill="#52b496"/><rect x="221.1" y="340.6" width="0.6" height="0.6" fill="#52b496"/><rect x="206.3" y="342.2" width="0.6" height="0.6" fill="#52b495"/><rect x="206.7" y="335.8" width="0.6" height="0.6" fill="#53b593"/><rect x="221.5" y="340.9" width="0.6" height="0.6" fill="#54b692"/><rect x="222.6" y="341.3" width="0.6" height="0.6" fill="#55b78f"/><rect x="211.1" y="333.4" width="0.6" height="0.6" fill="#55b78d"/><rect x="221.2" y="341.3" width="0.6" height="0.6" fill="#56b88d"/><rect x="207.3" y="335.1" width="0.6" height="0.6" fill="#56b88c"/><rect x="205.2" y="339.4" width="0.6" height="0.6" fill="#56b88c"/><rect x="210.9" y="335.3" width="0.6" height="0.6" fill="#56b88b"/><rect x="207.2" y="334.6" width="0.6" height="0.6" fill="#56b88b"/><rect x="211.6" y="334.3" width="0.6" height="0.6" fill="#57b98a"/><rect x="210.8" y="341.4" width="0.6" height="0.6" fill="#57b98a"/><rect x="213.1" y="340.3" width="0.6" height="0.6" fill="#57b989"/><rect x="208.7" y="332.0" width="0.6" height="0.6" fill="#57b989"/><rect x="207.2" y="335.7" width="0.6" height="0.6" fill="#57b988"/><rect x="207.5" y="342.9" width="0.6" height="0.6" fill="#57b988"/><rect x="205.3" y="340.2" width="0.6" height="0.6" fill="#58ba87"/><rect x="221.0" y="342.6" width="0.6" height="0.6" fill="#58ba87"/><rect x="205.2" y="338.7" width="0.6" height="0.6" fill="#59bb85"/><rect x="211.4" y="337.7" width="0.6" height="0.6" fill="#59bb85"/><rect x="210.0" y="332.7" width="0.6" height="0.6" fill="#59bb84"/><rect x="207.2" y="335.9" width="0.6" height="0.6" fill="#59bb84"/><rect x="212.7" y="340.5" width="0.6" height="0.6" fill="#5abc82"/><rect x="205.8" y="336.4" width="0.6" height="0.6" fill="#5abc82"/><rect x="212.4" y="338.7" width="0.6" height="0.6" fill="#5abc82"/><rect x="213.1" y="340.2" width="0.6" height="0.6" fill="#5abc82"/><rect x="221.3" y="343.5" width="0.6" height="0.6" fill="#5abc82"/><rect x="208.3" y="342.8" width="0.6" height="0.6" fill="#5bbd7f"/><rect x="205.3" y="338.9" width="0.6" height="0.6" fill="#5bbd7f"/><rect x="221.1" y="343.1" width="0.6" height="0.6" fill="#5bbd7e"/><rect x="210.4" y="336.8" width="0.6" height="0.6" fill="#5cbe7d"/><rect x="211.4" y="334.2" width="0.6" height="0.6" fill="#5cbe7d"/><rect x="211.2" y="333.9" width="0.6" height="0.6" fill="#5cbe7d"/><rect x="212.1" y="338.6" width="0.6" height="0.6" fill="#5cbe7c"/><rect x="222.3" y="341.6" width="0.6" height="0.6" fill="#5cbe7c"/><rect x="221.7" y="341.5" width="0.6" height="0.6" fill="#5cbe7c"/><rect x="212.7" y="340.4" width="0.6" height="0.6" fill="#5cbe7c"/><rect x="205.5" y="336.7" width="0.6" height="0.6" fill="#5cbe7c"/><rect x="206.3" y="336.3" width="0.6" height="0.6" fill="#5cbe7c"/><rect x="210.1" y="333.0" width="0.6" height="0.6" fill="#5cbe7b"/><rect x="211.4" y="334.3" width="0.6" height="0.6" fill="#5cbe7b"/><rect x="210.6" y="341.3" width="0.6" height="0.6" fill="#5dbf7a"/><rect x="207.6" y="334.8" width="0.6" height="0.6" fill="#5dbf7a"/><rect x="222.0" y="342.9" width="0.6" height="0.6" fill="#5dbf7a"/><rect x="207.1" y="336.2" width="0.6" height="0.6" fill="#5dbf7a"/><rect x="210.6" y="333.6" width="0.6" height="0.6" fill="#5dbf79"/><rect x="208.2" y="332.4" width="0.6" height="0.6" fill="#5dbf78"/><rect x="205.4" y="339.5" width="0.6" height="0.6" fill="#5ec078"/><rect x="210.2" y="336.5" width="0.6" height="0.6" fill="#5ec078"/><rect x="208.8" y="332.3" width="0.6" height="0.6" fill="#5ec078"/><rect x="205.4" y="336.9" width="0.6" height="0.6" fill="#5ec077"/><rect x="222.2" y="342.2" width="0.6" height="0.6" fill="#5ec077"/><rect x="221.8" y="343.0" width="0.6" height="0.6" fill="#5fc175"/><rect x="222.2" y="342.0" width="0.6" height="0.6" fill="#5fc175"/><rect x="221.5" y="342.0" width="0.6" height="0.6" fill="#5fc174"/><rect x="221.6" y="343.1" width="0.6" height="0.6" fill="#5fc174"/><rect x="222.2" y="342.1" width="0.6" height="0.6" fill="#5fc174"/><rect x="221.8" y="343.0" width="0.6" height="0.6" fill="#5fc174"/><rect x="208.2" y="335.3" width="0.6" height="0.6" fill="#5fc174"/><rect x="221.6" y="341.9" width="0.6" height="0.6" fill="#5fc173"/><rect x="210.9" y="334.7" width="0.6" height="0.6" fill="#5fc173"/><rect x="208.2" y="335.6" width="0.6" height="0.6" fill="#5fc173"/><rect x="207.7" y="336.4" width="0.6" height="0.6" fill="#60c273"/><rect x="207.6" y="336.5" width="0.6" height="0.6" fill="#60c273"/><rect x="209.9" y="333.2" width="0.6" height="0.6" fill="#60c271"/><rect x="210.9" y="334.7" width="0.6" height="0.6" fill="#60c271"/><rect x="211.0" y="334.5" width="0.6" height="0.6" fill="#61c370"/><rect x="207.9" y="336.5" width="0.6" height="0.6" fill="#61c36f"/><rect x="207.4" y="333.9" width="0.6" height="0.6" fill="#61c36e"/><rect x="209.7" y="341.5" width="0.6" height="0.6" fill="#62c46d"/><rect x="208.6" y="335.2" width="0.6" height="0.6" fill="#62c46d"/><rect x="207.7" y="342.6" width="0.6" height="0.6" fill="#63c46d"/><rect x="210.3" y="334.3" width="0.6" height="0.6" fill="#63c46d"/><rect x="210.0" y="336.6" width="0.6" height="0.6" fill="#63c46d"/><rect x="208.7" y="335.1" width="0.6" height="0.6" fill="#64c46c"/><rect x="212.8" y="339.7" width="0.6" height="0.6" fill="#64c46c"/><rect x="221.8" y="342.5" width="0.6" height="0.6" fill="#64c46c"/><rect x="208.2" y="336.3" width="0.6" height="0.6" fill="#65c46c"/><rect x="210.3" y="335.1" width="0.6" height="0.6" fill="#66c46b"/><rect x="211.1" y="337.8" width="0.6" height="0.6" fill="#68c46a"/><rect x="205.5" y="337.0" width="0.6" height="0.6" fill="#69c46a"/><rect x="210.1" y="335.3" width="0.6" height="0.6" fill="#6ac469"/><rect x="209.7" y="333.5" width="0.6" height="0.6" fill="#6ac469"/><rect x="209.8" y="335.8" width="0.6" height="0.6" fill="#6ac469"/><rect x="208.2" y="332.7" width="0.6" height="0.6" fill="#6ac469"/><rect x="210.6" y="341.0" width="0.6" height="0.6" fill="#6ac469"/><rect x="208.8" y="342.1" width="0.6" height="0.6" fill="#6cc469"/><rect x="207.8" y="337.1" width="0.6" height="0.6" fill="#6cc468"/><rect x="209.2" y="335.2" width="0.6" height="0.6" fill="#6ec467"/><rect x="209.8" y="334.8" width="0.6" height="0.6" fill="#6ec467"/><rect x="210.2" y="335.0" width="0.6" height="0.6" fill="#6fc467"/><rect x="209.2" y="332.7" width="0.6" height="0.6" fill="#70c466"/><rect x="207.6" y="333.3" width="0.6" height="0.6" fill="#70c466"/><rect x="207.7" y="337.4" width="0.6" height="0.6" fill="#70c466"/><rect x="208.5" y="336.6" width="0.6" height="0.6" fill="#71c466"/><rect x="207.6" y="333.7" width="0.6" height="0.6" fill="#73c465"/><rect x="209.2" y="336.1" width="0.6" height="0.6" fill="#73c465"/><rect x="209.7" y="335.4" width="0.6" height="0.6" fill="#74c465"/><rect x="209.6" y="336.4" width="0.6" height="0.6" fill="#74c464"/><rect x="209.6" y="335.4" width="0.6" height="0.6" fill="#74c464"/><rect x="209.6" y="335.1" width="0.6" height="0.6" fill="#75c464"/><rect x="208.0" y="342.5" width="0.6" height="0.6" fill="#75c464"/><rect x="209.1" y="336.2" width="0.6" height="0.6" fill="#75c464"/><rect x="208.2" y="334.4" width="0.6" height="0.6" fill="#76c463"/><rect x="210.5" y="337.4" width="0.6" height="0.6" fill="#76c463"/><rect x="212.4" y="339.2" width="0.6" height="0.6" fill="#78c462"/><rect x="207.4" y="342.3" width="0.6" height="0.6" fill="#79c462"/><rect x="205.9" y="336.9" width="0.6" height="0.6" fill="#7ac461"/><rect x="212.1" y="339.0" width="0.6" height="0.6" fill="#7cc461"/><rect x="208.8" y="342.0" width="0.6" height="0.6" fill="#7cc461"/><rect x="207.9" y="342.5" width="0.6" height="0.6" fill="#7cc460"/><rect x="211.3" y="338.3" width="0.6" height="0.6" fill="#7dc460"/><rect x="206.0" y="336.9" width="0.6" height="0.6" fill="#7ec45f"/><rect x="208.7" y="332.7" width="0.6" height="0.6" fill="#7fc45f"/><rect x="207.2" y="337.6" width="0.6" height="0.6" fill="#7fc45f"/><rect x="210.5" y="337.5" width="0.6" height="0.6" fill="#80c45f"/><rect x="208.0" y="334.2" width="0.6" height="0.6" fill="#81c45e"/><rect x="211.1" y="338.3" width="0.6" height="0.6" fill="#82c45e"/><rect x="211.6" y="340.4" width="0.6" height="0.6" fill="#83c45d"/><rect x="210.9" y="338.0" width="0.6" height="0.6" fill="#84c45d"/><rect x="212.5" y="339.9" width="0.6" height="0.6" fill="#85c45c"/><rect x="209.3" y="336.7" width="0.6" height="0.6" fill="#85c45c"/><rect x="205.8" y="338.1" width="0.6" height="0.6" fill="#85c45c"/><rect x="207.9" y="334.0" width="0.6" height="0.6" fill="#85c45c"/><rect x="207.9" y="333.2" width="0.6" height="0.6" fill="#86c45c"/><rect x="208.9" y="341.8" width="0.6" height="0.6" fill="#87c45b"/><rect x="210.7" y="337.9" width="0.6" height="0.6" fill="#88c45b"/><rect x="206.6" y="337.2" width="0.6" height="0.6" fill="#89c45a"/><rect x="206.4" y="337.1" width="0.6" height="0.6" fill="#89c45a"/><rect x="207.8" y="342.3" width="0.6" height="0.6" fill="#89c45a"/><rect x="208.6" y="334.1" width="0.6" height="0.6" fill="#8ac45a"/><rect x="207.8" y="333.5" width="0.6" height="0.6" fill="#8ac45a"/><rect x="209.1" y="333.7" width="0.6" height="0.6" fill="#8ac45a"/><rect x="206.6" y="341.6" width="0.6" height="0.6" fill="#8bc459"/><rect x="209.0" y="333.8" width="0.6" height="0.6" fill="#8cc459"/><rect x="205.8" y="337.4" width="0.6" height="0.6" fill="#8cc459"/><rect x="205.8" y="338.0" width="0.6" height="0.6" fill="#8cc458"/><rect x="206.4" y="337.2" width="0.6" height="0.6" fill="#8ec458"/><rect x="211.5" y="340.3" width="0.6" height="0.6" fill="#90c457"/><rect x="210.4" y="340.8" width="0.6" height="0.6" fill="#91c456"/><rect x="208.0" y="333.3" width="0.6" height="0.6" fill="#92c456"/><rect x="208.1" y="342.2" width="0.6" height="0.6" fill="#94c455"/><rect x="209.0" y="333.5" width="0.6" height="0.6" fill="#96c454"/><rect x="212.3" y="339.5" width="0.6" height="0.6" fill="#97c453"/><rect x="206.0" y="340.5" width="0.6" height="0.6" fill="#98c453"/><rect x="209.0" y="333.3" width="0.6" height="0.6" fill="#98c453"/><rect x="205.9" y="337.7" width="0.6" height="0.6" fill="#98c453"/><rect x="211.3" y="338.8" width="0.6" height="0.6" fill="#99c452"/><rect x="208.4" y="337.4" width="0.6" height="0.6" fill="#99c452"/><rect x="208.9" y="337.1" width="0.6" height="0.6" fill="#9bc451"/><rect x="206.2" y="338.2" width="0.6" height="0.6" fill="#a0c44f"/><rect x="208.4" y="337.5" width="0.6" height="0.6" fill="#a1c44e"/><rect x="208.7" y="333.7" width="0.6" height="0.6" fill="#a1c44e"/><rect x="208.7" y="333.2" width="0.6" height="0.6" fill="#a1c44e"/><rect x="209.8" y="337.3" width="0.6" height="0.6" fill="#a1c44e"/><rect x="209.1" y="341.4" width="0.6" height="0.6" fill="#a3c44d"/><rect x="206.3" y="338.1" width="0.6" height="0.6" fill="#a4c44d"/><rect x="208.8" y="333.4" width="0.6" height="0.6" fill="#a4c44d"/><rect x="208.5" y="341.7" width="0.6" height="0.6" fill="#a7c44c"/><rect x="211.8" y="340.0" width="0.6" height="0.6" fill="#a7c44b"/><rect x="211.9" y="340.0" width="0.6" height="0.6" fill="#a8c44b"/><rect x="206.9" y="338.2" width="0.6" height="0.6" fill="#a8c44b"/><rect x="206.6" y="338.1" width="0.6" height="0.6" fill="#a8c44b"/><rect x="206.6" y="341.4" width="0.6" height="0.6" fill="#a8c44b"/><rect x="206.8" y="341.5" width="0.6" height="0.6" fill="#aac44a"/><rect x="206.8" y="338.3" width="0.6" height="0.6" fill="#aac44a"/><rect x="206.3" y="339.2" width="0.6" height="0.6" fill="#acc449"/><rect x="210.9" y="338.9" width="0.6" height="0.6" fill="#acc449"/><rect x="206.6" y="341.2" width="0.6" height="0.6" fill="#adc448"/><rect x="206.7" y="338.4" width="0.6" height="0.6" fill="#aec448"/><rect x="206.3" y="339.3" width="0.6" height="0.6" fill="#afc447"/><rect x="206.1" y="340.3" width="0.6" height="0.6" fill="#b2c446"/><rect x="210.3" y="338.5" width="0.6" height="0.6" fill="#b4c445"/><rect x="209.5" y="337.4" width="0.6" height="0.6" fill="#b5c444"/><rect x="207.2" y="341.7" width="0.6" height="0.6" fill="#b6c444"/><rect x="210.5" y="340.2" width="0.6" height="0.6" fill="#b6c444"/><rect x="206.4" y="339.2" width="0.6" height="0.6" fill="#b7c444"/><rect x="209.7" y="337.5" width="0.6" height="0.6" fill="#b8c443"/><rect x="206.9" y="338.7" width="0.6" height="0.6" fill="#bac442"/><rect x="209.5" y="341.0" width="0.6" height="0.6" fill="#bdc441"/><rect x="211.8" y="339.6" width="0.6" height="0.6" fill="#bec440"/><rect x="210.8" y="339.7" width="0.6" height="0.6" fill="#bfc440"/><rect x="211.3" y="339.8" width="0.6" height="0.6" fill="#c0c43f"/><rect x="211.1" y="339.4" width="0.6" height="0.6" fill="#c0c43f"/><rect x="206.2" y="339.8" width="0.6" height="0.6" fill="#c0c43f"/><rect x="207.0" y="338.8" width="0.6" height="0.6" fill="#c0c43f"/><rect x="206.2" y="340.3" width="0.6" height="0.6" fill="#c2c43e"/><rect x="211.6" y="339.5" width="0.6" height="0.6" fill="#c3c43e"/><rect x="211.4" y="339.4" width="0.6" height="0.6" fill="#c3c43e"/><rect x="211.6" y="339.5" width="0.6" height="0.6" fill="#c3c43e"/><rect x="206.3" y="339.8" width="0.6" height="0.6" fill="#c4c43d"/><rect x="211.6" y="339.5" width="0.6" height="0.6" fill="#c4c43d"/><rect x="209.9" y="337.9" width="0.6" height="0.6" fill="#c5c43d"/><rect x="208.4" y="341.5" width="0.6" height="0.6" fill="#c7c43c"/><rect x="207.4" y="341.6" width="0.6" height="0.6" fill="#c9c23b"/><rect x="210.4" y="339.9" width="0.6" height="0.6" fill="#cac13a"/><rect x="209.4" y="337.6" width="0.6" height="0.6" fill="#cac13a"/><rect x="208.7" y="337.8" width="0.6" height="0.6" fill="#cdbe38"/><rect x="206.6" y="340.9" width="0.6" height="0.6" fill="#cdbd37"/><rect x="207.5" y="338.9" width="0.6" height="0.6" fill="#cebc37"/><rect x="206.5" y="340.7" width="0.6" height="0.6" fill="#cfbb36"/><rect x="208.8" y="341.0" width="0.6" height="0.6" fill="#cfbb36"/><rect x="209.3" y="337.8" width="0.6" height="0.6" fill="#cfbb36"/><rect x="207.6" y="339.0" width="0.6" height="0.6" fill="#cfbb36"/><rect x="208.4" y="341.2" width="0.6" height="0.6" fill="#d0ba35"/><rect x="206.5" y="340.1" width="0.6" height="0.6" fill="#d0ba35"/><rect x="209.9" y="340.4" width="0.6" height="0.6" fill="#d1b934"/><rect x="210.1" y="340.0" width="0.6" height="0.6" fill="#d1b834"/><rect x="207.2" y="339.7" width="0.6" height="0.6" fill="#d2b834"/><rect x="210.0" y="340.3" width="0.6" height="0.6" fill="#d3b633"/><rect x="206.6" y="340.5" width="0.6" height="0.6" fill="#d3b633"/><rect x="207.9" y="341.2" width="0.6" height="0.6" fill="#d4b532"/><rect x="207.9" y="341.2" width="0.6" height="0.6" fill="#d4b532"/><rect x="207.9" y="341.1" width="0.6" height="0.6" fill="#d4b532"/><rect x="209.7" y="340.5" width="0.6" height="0.6" fill="#d5b432"/><rect x="206.7" y="340.1" width="0.6" height="0.6" fill="#d5b431"/><rect x="207.7" y="339.1" width="0.6" height="0.6" fill="#d5b431"/><rect x="206.8" y="340.1" width="0.6" height="0.6" fill="#d7b230"/><rect x="209.9" y="340.2" width="0.6" height="0.6" fill="#d7b230"/><rect x="207.4" y="340.0" width="0.6" height="0.6" fill="#d7b130"/><rect x="209.8" y="339.1" width="0.6" height="0.6" fill="#d9af2e"/><rect x="207.6" y="340.9" width="0.6" height="0.6" fill="#daaf2e"/><rect x="209.6" y="338.4" width="0.6" height="0.6" fill="#daaf2e"/><rect x="207.0" y="340.8" width="0.6" height="0.6" fill="#daae2e"/><rect x="207.9" y="339.5" width="0.6" height="0.6" fill="#daae2e"/><rect x="208.4" y="338.3" width="0.6" height="0.6" fill="#daae2e"/><rect x="208.5" y="338.3" width="0.6" height="0.6" fill="#daae2d"/><rect x="209.0" y="338.0" width="0.6" height="0.6" fill="#daae2d"/><rect x="207.6" y="340.8" width="0.6" height="0.6" fill="#dbae2d"/><rect x="208.1" y="340.3" width="0.6" height="0.6" fill="#dbad2d"/><rect x="209.6" y="338.5" width="0.6" height="0.6" fill="#dbad2d"/><rect x="207.5" y="340.7" width="0.6" height="0.6" fill="#dcac2c"/><rect x="208.3" y="338.5" width="0.6" height="0.6" fill="#dcac2c"/><rect x="207.4" y="340.6" width="0.6" height="0.6" fill="#dcac2c"/><rect x="207.3" y="340.5" width="0.6" height="0.6" fill="#dcac2c"/><rect x="209.7" y="338.9" width="0.6" height="0.6" fill="#ddab2b"/><rect x="209.2" y="340.5" width="0.6" height="0.6" fill="#dfa92a"/><rect x="208.0" y="339.3" width="0.6" height="0.6" fill="#e0a729"/><rect x="208.8" y="340.5" width="0.6" height="0.6" fill="#e0a729"/><rect x="209.6" y="338.9" width="0.6" height="0.6" fill="#e1a629"/><rect x="209.0" y="340.4" width="0.6" height="0.6" fill="#e1a628"/><rect x="208.1" y="339.3" width="0.6" height="0.6" fill="#e1a628"/><rect x="209.6" y="339.1" width="0.6" height="0.6" fill="#e1a628"/><rect x="208.8" y="340.4" width="0.6" height="0.6" fill="#e1a628"/><rect x="208.2" y="338.9" width="0.6" height="0.6" fill="#e2a527"/><rect x="208.8" y="338.4" width="0.6" height="0.6" fill="#e3a327"/><rect x="209.6" y="339.9" width="0.6" height="0.6" fill="#e4a226"/><rect x="208.5" y="338.6" width="0.6" height="0.6" fill="#e6a025"/><rect x="208.3" y="339.0" width="0.6" height="0.6" fill="#e79f24"/><rect x="209.4" y="340.2" width="0.6" height="0.6" fill="#e79f24"/><rect x="208.4" y="339.1" width="0.6" height="0.6" fill="#e79f24"/><rect x="209.3" y="338.7" width="0.6" height="0.6" fill="#e99d22"/><rect x="208.6" y="339.7" width="0.6" height="0.6" fill="#e99d22"/><rect x="209.2" y="338.6" width="0.6" height="0.6" fill="#e99d22"/><rect x="208.6" y="339.7" width="0.6" height="0.6" fill="#ea9c22"/><rect x="209.2" y="340.2" width="0.6" height="0.6" fill="#ea9c22"/><rect x="209.0" y="338.5" width="0.6" height="0.6" fill="#ea9c22"/><rect x="209.4" y="339.8" width="0.6" height="0.6" fill="#ea9c22"/><rect x="208.7" y="339.7" width="0.6" height="0.6" fill="#ea9b21"/><rect x="209.3" y="339.6" width="0.6" height="0.6" fill="#ec9a20"/><rect x="209.2" y="339.7" width="0.6" height="0.6" fill="#ef961e"/><rect x="209.0" y="339.0" width="0.6" height="0.6" fill="#f0961e"/></g>
<rect x="196.4" y="312.3" width="19.20" height="41.10" fill="none" stroke="#666" stroke-width="0.42"/>
<text x="225.2" y="309.2" font-size="4.8" text-anchor="middle" font-weight="normal" fill="#262626" stroke="#262626" stroke-width="0.07">CD19+ CD23-</text>
<text x="224.4" y="315" font-size="4.8" text-anchor="middle" font-weight="normal" fill="#262626" stroke="#262626" stroke-width="0.07">82.5</text>
<text x="219.6" y="373.5" font-size="5" text-anchor="middle" font-weight="normal" fill="#262626" stroke="#262626" stroke-width="0.07">CD23</text>
<text x="176.3" y="329.6" font-size="5.2" text-anchor="middle" font-weight="normal" fill="#262626" transform="rotate(-90 176.3 329.6)" stroke="#262626" stroke-width="0.07">CD43</text>
<path d="M190.8 339.7 H174.5 V338.5 L170.8 341.4 L174.5 344.29999999999995 V343.09999999999997 H190.8 Z" fill="#1d57a8"/>
<text x="145.4" y="380.7" font-size="6.95" text-anchor="middle" font-weight="bold" fill="#1a1a1a" stroke="#1a1a1a" stroke-width="0.07">Post-Sort</text>
<rect x="47.4" y="383.3" width="51.50000000000001" height="56.099999999999966" fill="none" stroke="#8a8a8a" stroke-width="0.6"/>
<line x1="46.1" y1="390.3" x2="47.4" y2="390.3" stroke="#444" stroke-width="0.5" stroke-linecap="butt"/>
<text x="45.5" y="391.3" font-size="2.8" text-anchor="end" font-weight="normal" fill="#3a3a3a">10<tspan dy="-1.0" font-size="2">5</tspan></text>
<line x1="46.1" y1="404.7" x2="47.4" y2="404.7" stroke="#444" stroke-width="0.5" stroke-linecap="butt"/>
<text x="45.5" y="405.7" font-size="2.8" text-anchor="end" font-weight="normal" fill="#3a3a3a">10<tspan dy="-1.0" font-size="2">4</tspan></text>
<line x1="46.1" y1="421.7" x2="47.4" y2="421.7" stroke="#444" stroke-width="0.5" stroke-linecap="butt"/>
<text x="45.5" y="422.7" font-size="2.8" text-anchor="end" font-weight="normal" fill="#3a3a3a">10<tspan dy="-1.0" font-size="2">3</tspan></text>
<line x1="46.1" y1="428.6" x2="47.4" y2="428.6" stroke="#444" stroke-width="0.5" stroke-linecap="butt"/>
<text x="45.5" y="429.6" font-size="2.8" text-anchor="end" font-weight="normal" fill="#3a3a3a">0</text>
<rect x="45.9" y="427.3" width="1.3" height="2.2" fill="#222"/>
<line x1="46.1" y1="435.5" x2="47.4" y2="435.5" stroke="#444" stroke-width="0.5" stroke-linecap="butt"/>
<text x="45.5" y="436.5" font-size="2.8" text-anchor="end" font-weight="normal" fill="#3a3a3a">-10<tspan dy="-1.0" font-size="2">3</tspan></text>
<line x1="54.6" y1="439.4" x2="54.6" y2="440.7" stroke="#444" stroke-width="0.5" stroke-linecap="butt"/>
<text x="54.6" y="443.7" font-size="2.8" text-anchor="middle" font-weight="normal" fill="#3a3a3a">0</text>
<rect x="52.800000000000004" y="439.7" width="3.4" height="1.1" fill="#222"/>
<line x1="66.9" y1="439.4" x2="66.9" y2="440.7" stroke="#444" stroke-width="0.5" stroke-linecap="butt"/>
<text x="66.9" y="443.7" font-size="2.8" text-anchor="middle" font-weight="normal" fill="#3a3a3a">10<tspan dy="-1.0" font-size="2">3</tspan></text>
<line x1="81.8" y1="439.4" x2="81.8" y2="440.7" stroke="#444" stroke-width="0.5" stroke-linecap="butt"/>
<text x="81.8" y="443.7" font-size="2.8" text-anchor="middle" font-weight="normal" fill="#3a3a3a">10<tspan dy="-1.0" font-size="2">4</tspan></text>
<line x1="95.4" y1="439.4" x2="95.4" y2="440.7" stroke="#444" stroke-width="0.5" stroke-linecap="butt"/>
<text x="95.4" y="443.7" font-size="2.8" text-anchor="middle" font-weight="normal" fill="#3a3a3a">10<tspan dy="-1.0" font-size="2">5</tspan></text>
<g filter="url(#b2)"><path d="M50 413 Q49.6 407.4 54 405.8 Q58.6 404.6 61 407.6 Q63.6 408 63 411 Q61.6 413 63.4 415.6 Q63.6 418 61 417.4 Q59 420.8 55.6 420.6 Q52 421 51.4 417.6 Q49.8 415.6 50 413 Z" fill="#1c3fd6"/></g>
<ellipse cx="55.8" cy="412.8" rx="4.4" ry="5.6" fill="#2a8cf0" opacity="1" transform="rotate(-20 55.8 412.8)" filter="url(#b2)"/>
<ellipse cx="55.7" cy="412.8" rx="3.7" ry="4.8" fill="#1fd0c0" opacity="1" transform="rotate(-20 55.7 412.8)" filter="url(#b2)"/>
<ellipse cx="55.7" cy="412.8" rx="3.1" ry="4.1" fill="#4ad83a" opacity="1" transform="rotate(-25 55.7 412.8)" filter="url(#b2)"/>
<ellipse cx="55.8" cy="412.8" rx="2.3" ry="3.1" fill="#f2e21c" opacity="1" transform="rotate(-30 55.8 412.8)" filter="url(#b2)"/>
<ellipse cx="56" cy="413" rx="1.6" ry="2.3" fill="#f59a14" opacity="1" transform="rotate(-35 56 413)" filter="url(#b2)"/>
<ellipse cx="56.2" cy="413.2" rx="1.0" ry="1.5" fill="#ee2a10" opacity="1" transform="rotate(-35 56.2 413.2)" filter="url(#b2)"/>
<rect x="49.5" y="396.3" width="12.10" height="33.00" fill="none" stroke="#666" stroke-width="0.42"/>
<rect x="65" y="417.9" width="26.40" height="11.50" fill="none" stroke="#666" stroke-width="0.42"/>
<text x="66.9" y="389.4" font-size="3.5" text-anchor="middle" font-weight="normal" fill="#303030" stroke="#303030" stroke-width="0.08">Pro-B</text>
<text x="66.9" y="394.2" font-size="3.5" text-anchor="middle" font-weight="normal" fill="#303030" stroke="#303030" stroke-width="0.08">87.1</text>
<text x="90.1" y="409.9" font-size="3.5" text-anchor="middle" font-weight="normal" fill="#303030" stroke="#303030" stroke-width="0.08">Immature</text>
<text x="90" y="414.7" font-size="3.5" text-anchor="middle" font-weight="normal" fill="#303030" stroke="#303030" stroke-width="0.08">3</text>
<text x="48.7" y="431.5" font-size="3.4" text-anchor="start" font-weight="normal" fill="#303030" stroke="#303030" stroke-width="0.08">Pre-B</text>
<text x="48.7" y="436.2" font-size="3.4" text-anchor="start" font-weight="normal" fill="#303030" stroke="#303030" stroke-width="0.08">4.46</text>
<text x="75" y="454.9" font-size="4.6" text-anchor="middle" font-weight="normal" fill="#262626" stroke="#262626" stroke-width="0.07">IgM</text>
<text x="75.7" y="462.7" font-size="5.95" text-anchor="middle" font-weight="normal" fill="#262626" stroke="#262626" stroke-width="0.07">Pro B cells</text>
<text x="33.2" y="411.9" font-size="5.2" text-anchor="middle" font-weight="normal" fill="#262626" transform="rotate(-90 33.2 411.9)" stroke="#262626" stroke-width="0.07">CD43</text>
<rect x="119.5" y="383.4" width="51.5" height="56.0" fill="none" stroke="#8a8a8a" stroke-width="0.6"/>
<line x1="118.2" y1="390.4" x2="119.5" y2="390.4" stroke="#444" stroke-width="0.5" stroke-linecap="butt"/>
<text x="117.6" y="391.4" font-size="2.8" text-anchor="end" font-weight="normal" fill="#3a3a3a">10<tspan dy="-1.0" font-size="2">5</tspan></text>
<line x1="118.2" y1="404.79999999999995" x2="119.5" y2="404.79999999999995" stroke="#444" stroke-width="0.5" stroke-linecap="butt"/>
<text x="117.6" y="405.79999999999995" font-size="2.8" text-anchor="end" font-weight="normal" fill="#3a3a3a">10<tspan dy="-1.0" font-size="2">4</tspan></text>
<line x1="118.2" y1="421.79999999999995" x2="119.5" y2="421.79999999999995" stroke="#444" stroke-width="0.5" stroke-linecap="butt"/>
<text x="117.6" y="422.79999999999995" font-size="2.8" text-anchor="end" font-weight="normal" fill="#3a3a3a">10<tspan dy="-1.0" font-size="2">3</tspan></text>
<line x1="118.2" y1="428.7" x2="119.5" y2="428.7" stroke="#444" stroke-width="0.5" stroke-linecap="butt"/>
<text x="117.6" y="429.7" font-size="2.8" text-anchor="end" font-weight="normal" fill="#3a3a3a">0</text>
<rect x="118.0" y="427.4" width="1.3" height="2.2" fill="#222"/>
<line x1="118.2" y1="435.59999999999997" x2="119.5" y2="435.59999999999997" stroke="#444" stroke-width="0.5" stroke-linecap="butt"/>
<text x="117.6" y="436.59999999999997" font-size="2.8" text-anchor="end" font-weight="normal" fill="#3a3a3a">-10<tspan dy="-1.0" font-size="2">3</tspan></text>
<line x1="126.8" y1="439.4" x2="126.8" y2="440.7" stroke="#444" stroke-width="0.5" stroke-linecap="butt"/>
<text x="126.8" y="443.7" font-size="2.8" text-anchor="middle" font-weight="normal" fill="#3a3a3a">0</text>
<rect x="125.0" y="439.7" width="3.4" height="1.1" fill="#222"/>
<line x1="139" y1="439.4" x2="139" y2="440.7" stroke="#444" stroke-width="0.5" stroke-linecap="butt"/>
<text x="139" y="443.7" font-size="2.8" text-anchor="middle" font-weight="normal" fill="#3a3a3a">10<tspan dy="-1.0" font-size="2">3</tspan></text>
<line x1="154" y1="439.4" x2="154" y2="440.7" stroke="#444" stroke-width="0.5" stroke-linecap="butt"/>
<text x="154" y="443.7" font-size="2.8" text-anchor="middle" font-weight="normal" fill="#3a3a3a">10<tspan dy="-1.0" font-size="2">4</tspan></text>
<line x1="167.5" y1="439.4" x2="167.5" y2="440.7" stroke="#444" stroke-width="0.5" stroke-linecap="butt"/>
<text x="167.5" y="443.7" font-size="2.8" text-anchor="middle" font-weight="normal" fill="#3a3a3a">10<tspan dy="-1.0" font-size="2">5</tspan></text>
<g filter="url(#b2)"><path d="M121.6 422.4 Q121.8 418 126 417.2 Q130 416.6 132.4 418.8 Q136 418.6 138.6 421 Q139.6 424 137 426 Q133 427.6 130 427.6 Q125 428.6 122.6 426.6 Q121.4 424.6 121.6 422.4 Z" fill="#1c3fd6"/></g>
<ellipse cx="127.5" cy="422.5" rx="4.9" ry="3.9" fill="#2a8cf0" opacity="1" transform="rotate(0 127.5 422.5)" filter="url(#b2)"/>
<ellipse cx="134" cy="422.6" rx="2.8" ry="2.1" fill="#2a8cf0" opacity="1" transform="rotate(0 134 422.6)" filter="url(#b2)"/>
<ellipse cx="127.3" cy="422.5" rx="4.2" ry="3.3" fill="#1fd0c0" opacity="1" transform="rotate(0 127.3 422.5)" filter="url(#b2)"/>
<ellipse cx="133" cy="422.8" rx="1.6" ry="1.1" fill="#1fd0c0" opacity="1" transform="rotate(0 133 422.8)" filter="url(#b2)"/>
<ellipse cx="127.2" cy="422.5" rx="3.7" ry="2.9" fill="#4ad83a" opacity="1" transform="rotate(0 127.2 422.5)" filter="url(#b2)"/>
<ellipse cx="127.1" cy="422.5" rx="2.8" ry="2.2" fill="#f2e21c" opacity="1" transform="rotate(0 127.1 422.5)" filter="url(#b2)"/>
<ellipse cx="127" cy="422.5" rx="1.8" ry="1.5" fill="#f59a14" opacity="1" transform="rotate(0 127 422.5)" filter="url(#b2)"/>
<ellipse cx="126.9" cy="422.5" rx="1.1" ry="0.9" fill="#ee2a10" opacity="1" transform="rotate(0 126.9 422.5)" filter="url(#b2)"/>
<rect x="122.2" y="396.5" width="11.60" height="32.90" fill="none" stroke="#666" stroke-width="0.42"/>
<rect x="138.4" y="418" width="26.10" height="11.60" fill="none" stroke="#666" stroke-width="0.42"/>
<text x="139.6" y="389.8" font-size="3.5" text-anchor="middle" font-weight="normal" fill="#303030" stroke="#303030" stroke-width="0.08">Pro-B</text>
<text x="139.6" y="394.7" font-size="3.5" text-anchor="middle" font-weight="normal" fill="#303030" stroke="#303030" stroke-width="0.08">0.43</text>
<text x="162.4" y="411.2" font-size="3.5" text-anchor="middle" font-weight="normal" fill="#303030" stroke="#303030" stroke-width="0.08">Immature</text>
<text x="162.4" y="415.9" font-size="3.5" text-anchor="middle" font-weight="normal" fill="#303030" stroke="#303030" stroke-width="0.08">1.07</text>
<text x="120.8" y="431.7" font-size="3.4" text-anchor="start" font-weight="normal" fill="#303030" stroke="#303030" stroke-width="0.08">Pre-B</text>
<text x="120.8" y="436.3" font-size="3.4" text-anchor="start" font-weight="normal" fill="#303030" stroke="#303030" stroke-width="0.08">91.4</text>
<text x="144.3" y="454.9" font-size="4.6" text-anchor="middle" font-weight="normal" fill="#262626" stroke="#262626" stroke-width="0.07">IgM</text>
<text x="146.9" y="462.7" font-size="5.95" text-anchor="middle" font-weight="normal" fill="#262626" stroke="#262626" stroke-width="0.07">Pre B cell</text>
<text x="106.2" y="411.9" font-size="5.2" text-anchor="middle" font-weight="normal" fill="#262626" transform="rotate(-90 106.2 411.9)" stroke="#262626" stroke-width="0.07">CD43</text>
<rect x="189.6" y="383.7" width="51.30000000000001" height="55.80000000000001" fill="none" stroke="#8a8a8a" stroke-width="0.6"/>
<line x1="188.29999999999998" y1="390.7" x2="189.6" y2="390.7" stroke="#444" stroke-width="0.5" stroke-linecap="butt"/>
<text x="187.7" y="391.7" font-size="2.8" text-anchor="end" font-weight="normal" fill="#3a3a3a">10<tspan dy="-1.0" font-size="2">5</tspan></text>
<line x1="188.29999999999998" y1="405.09999999999997" x2="189.6" y2="405.09999999999997" stroke="#444" stroke-width="0.5" stroke-linecap="butt"/>
<text x="187.7" y="406.09999999999997" font-size="2.8" text-anchor="end" font-weight="normal" fill="#3a3a3a">10<tspan dy="-1.0" font-size="2">4</tspan></text>
<line x1="188.29999999999998" y1="422.09999999999997" x2="189.6" y2="422.09999999999997" stroke="#444" stroke-width="0.5" stroke-linecap="butt"/>
<text x="187.7" y="423.09999999999997" font-size="2.8" text-anchor="end" font-weight="normal" fill="#3a3a3a">10<tspan dy="-1.0" font-size="2">3</tspan></text>
<line x1="188.29999999999998" y1="429.0" x2="189.6" y2="429.0" stroke="#444" stroke-width="0.5" stroke-linecap="butt"/>
<text x="187.7" y="430.0" font-size="2.8" text-anchor="end" font-weight="normal" fill="#3a3a3a">0</text>
<rect x="188.1" y="427.7" width="1.3" height="2.2" fill="#222"/>
<line x1="188.29999999999998" y1="435.9" x2="189.6" y2="435.9" stroke="#444" stroke-width="0.5" stroke-linecap="butt"/>
<text x="187.7" y="436.9" font-size="2.8" text-anchor="end" font-weight="normal" fill="#3a3a3a">-10<tspan dy="-1.0" font-size="2">3</tspan></text>
<line x1="197.4" y1="439.5" x2="197.4" y2="440.8" stroke="#444" stroke-width="0.5" stroke-linecap="butt"/>
<text x="197.4" y="443.8" font-size="2.8" text-anchor="middle" font-weight="normal" fill="#3a3a3a">0</text>
<rect x="195.6" y="439.8" width="3.4" height="1.1" fill="#222"/>
<line x1="209.6" y1="439.5" x2="209.6" y2="440.8" stroke="#444" stroke-width="0.5" stroke-linecap="butt"/>
<text x="209.6" y="443.8" font-size="2.8" text-anchor="middle" font-weight="normal" fill="#3a3a3a">10<tspan dy="-1.0" font-size="2">3</tspan></text>
<line x1="224.6" y1="439.5" x2="224.6" y2="440.8" stroke="#444" stroke-width="0.5" stroke-linecap="butt"/>
<text x="224.6" y="443.8" font-size="2.8" text-anchor="middle" font-weight="normal" fill="#3a3a3a">10<tspan dy="-1.0" font-size="2">4</tspan></text>
<line x1="237.6" y1="439.5" x2="237.6" y2="440.8" stroke="#444" stroke-width="0.5" stroke-linecap="butt"/>
<text x="237.6" y="443.8" font-size="2.8" text-anchor="middle" font-weight="normal" fill="#3a3a3a">10<tspan dy="-1.0" font-size="2">5</tspan></text>
<g filter="url(#b2)"><path d="M203.6 423 Q204 419.4 208 418.6 Q213 417.6 218 418 Q224 417.6 228 419.4 Q231 421 230.4 424 Q229.6 427 225 427.6 Q217 428.6 210 428 Q204.6 427.4 203.6 423 Z" fill="#1c3fd6"/></g>
<ellipse cx="217" cy="423.1" rx="11.4" ry="3.8" fill="#2a8cf0" opacity="1" transform="rotate(1 217 423.1)" filter="url(#b2)"/>
<ellipse cx="217" cy="423.1" rx="10.2" ry="3.2" fill="#1fd0c0" opacity="1" transform="rotate(1 217 423.1)" filter="url(#b2)"/>
<ellipse cx="217.2" cy="423.1" rx="8.6" ry="2.8" fill="#4ad83a" opacity="1" transform="rotate(1 217.2 423.1)" filter="url(#b2)"/>
<ellipse cx="217.5" cy="423.2" rx="5.6" ry="2.0" fill="#f2e21c" opacity="1" transform="rotate(1 217.5 423.2)" filter="url(#b2)"/>
<ellipse cx="218" cy="423.2" rx="3.2" ry="1.4" fill="#f59a14" opacity="1" transform="rotate(1 218 423.2)" filter="url(#b2)"/>
<ellipse cx="218.4" cy="423.2" rx="1.8" ry="0.9" fill="#ee2a10" opacity="1" transform="rotate(1 218.4 423.2)" filter="url(#b2)"/>
<rect x="191.5" y="396" width="12.00" height="21.20" fill="none" stroke="#666" stroke-width="0.42"/>
<rect x="191.5" y="417.2" width="12.00" height="12.20" fill="none" stroke="#666" stroke-width="0.42"/>
<rect x="205" y="417.2" width="28.50" height="12.20" fill="none" stroke="#666" stroke-width="0.42"/>
<text x="208.6" y="390.3" font-size="3.5" text-anchor="middle" font-weight="normal" fill="#303030" stroke="#303030" stroke-width="0.08">Pro-B</text>
<text x="208.6" y="395.2" font-size="3.5" text-anchor="middle" font-weight="normal" fill="#303030" stroke="#303030" stroke-width="0.08">0</text>
<text x="232" y="409.9" font-size="3.5" text-anchor="middle" font-weight="normal" fill="#303030" stroke="#303030" stroke-width="0.08">Immature</text>
<text x="232" y="414.7" font-size="3.5" text-anchor="middle" font-weight="normal" fill="#303030" stroke="#303030" stroke-width="0.08">95.5</text>
<text x="191.4" y="431.7" font-size="3.4" text-anchor="start" font-weight="normal" fill="#303030" stroke="#303030" stroke-width="0.08">Pre-B</text>
<text x="191.4" y="436.3" font-size="3.4" text-anchor="start" font-weight="normal" fill="#303030" stroke="#303030" stroke-width="0.08">0.34</text>
<text x="213.9" y="454.9" font-size="4.6" text-anchor="middle" font-weight="normal" fill="#262626" stroke="#262626" stroke-width="0.07">IgM</text>
<text x="217.1" y="462.7" font-size="5.95" text-anchor="middle" font-weight="normal" fill="#262626" stroke="#262626" stroke-width="0.07">Immature B cells</text>
<text x="177" y="411.9" font-size="5.2" text-anchor="middle" font-weight="normal" fill="#262626" transform="rotate(-90 177 411.9)" stroke="#262626" stroke-width="0.07">CD43</text>
</g>
<g id="panelD">
<text x="257.2" y="198.6" font-size="11.3" text-anchor="start" font-weight="bold" fill="#111">D)</text>
<text x="284.6" y="270.2" font-size="10.9" text-anchor="middle" font-weight="normal" fill="#363636" transform="rotate(-90 284.6 270.2)">Relative expression (mRNA)</text>
<line x1="319.6" y1="212.5" x2="319.6" y2="328.2" stroke="#111" stroke-width="1.7" stroke-linecap="butt"/>
<line x1="318.8" y1="327.4" x2="492" y2="327.4" stroke="#111" stroke-width="1.7" stroke-linecap="butt"/>
<line x1="315.1" y1="213" x2="319.6" y2="213" stroke="#111" stroke-width="1.7" stroke-linecap="butt"/>
<text x="314.0" y="216.5" font-size="9.8" text-anchor="end" font-weight="normal" fill="#363636">0.20</text>
<line x1="315.1" y1="241.5" x2="319.6" y2="241.5" stroke="#111" stroke-width="1.7" stroke-linecap="butt"/>
<text x="314.0" y="245.0" font-size="9.8" text-anchor="end" font-weight="normal" fill="#363636">0.15</text>
<line x1="315.1" y1="270" x2="319.6" y2="270" stroke="#111" stroke-width="1.7" stroke-linecap="butt"/>
<text x="314.0" y="273.5" font-size="9.8" text-anchor="end" font-weight="normal" fill="#363636">0.10</text>
<line x1="315.1" y1="298.6" x2="319.6" y2="298.6" stroke="#111" stroke-width="1.7" stroke-linecap="butt"/>
<text x="314.0" y="302.1" font-size="9.8" text-anchor="end" font-weight="normal" fill="#363636">0.05</text>
<line x1="315.1" y1="327.2" x2="319.6" y2="327.2" stroke="#111" stroke-width="1.7" stroke-linecap="butt"/>
<text x="314.0" y="330.7" font-size="9.8" text-anchor="end" font-weight="normal" fill="#363636">0.00</text>
<line x1="362.8" y1="327.4" x2="362.8" y2="331.9" stroke="#111" stroke-width="1.7" stroke-linecap="butt"/>
<text x="360.8" y="341.79999999999995" font-size="9.8" text-anchor="middle" font-weight="normal" fill="#363636">9 weeks</text>
<line x1="448.5" y1="327.4" x2="448.5" y2="331.9" stroke="#111" stroke-width="1.7" stroke-linecap="butt"/>
<text x="448.6" y="341.79999999999995" font-size="9.8" text-anchor="middle" font-weight="normal" fill="#363636">15 weeks</text>
<line x1="339.3" y1="290.4" x2="339.3" y2="299.3" stroke="#111" stroke-width="1.8" stroke-linecap="butt"/>
<line x1="334.7" y1="290.4" x2="343.90000000000003" y2="290.4" stroke="#111" stroke-width="1.8" stroke-linecap="butt"/>
<rect x="332.7" y="300.2" width="13.2" height="27.199999999999967" fill="#fff" stroke="#111" stroke-width="1.8"/>
<line x1="362.45" y1="297" x2="362.45" y2="303" stroke="#111" stroke-width="1.8" stroke-linecap="butt"/>
<line x1="357.84999999999997" y1="297" x2="367.05" y2="297" stroke="#111" stroke-width="1.8" stroke-linecap="butt"/>
<rect x="355.9" y="303.9" width="13.099999999999977" height="23.49999999999998" fill="#858a8b" stroke="#111" stroke-width="1.8"/>
<line x1="386.35" y1="319.6" x2="386.35" y2="322" stroke="#111" stroke-width="1.8" stroke-linecap="butt"/>
<line x1="381.75" y1="319.6" x2="390.95000000000005" y2="319.6" stroke="#111" stroke-width="1.8" stroke-linecap="butt"/>
<rect x="379.4" y="322.9" width="13.899999999999988" height="4.499999999999977" fill="#000" stroke="#111" stroke-width="1.8"/>
<line x1="425.7" y1="290.2" x2="425.7" y2="295" stroke="#111" stroke-width="1.8" stroke-linecap="butt"/>
<line x1="421.09999999999997" y1="290.2" x2="430.3" y2="290.2" stroke="#111" stroke-width="1.8" stroke-linecap="butt"/>
<rect x="419.09999999999997" y="295.9" width="13.2" height="31.49999999999998" fill="#fff" stroke="#111" stroke-width="1.8"/>
<line x1="448.75" y1="301.6" x2="448.75" y2="311.2" stroke="#111" stroke-width="1.8" stroke-linecap="butt"/>
<line x1="444.15" y1="301.6" x2="453.35" y2="301.6" stroke="#111" stroke-width="1.8" stroke-linecap="butt"/>
<rect x="442.0" y="312.09999999999997" width="13.499999999999954" height="15.299999999999988" fill="#858a8b" stroke="#111" stroke-width="1.8"/>
<line x1="472.3" y1="320.8" x2="472.3" y2="322.2" stroke="#111" stroke-width="1.8" stroke-linecap="butt"/>
<line x1="467.7" y1="320.8" x2="476.90000000000003" y2="320.8" stroke="#111" stroke-width="1.8" stroke-linecap="butt"/>
<rect x="465.2" y="323.09999999999997" width="14.2" height="4.299999999999988" fill="#000" stroke="#111" stroke-width="1.8"/>
<line x1="340.5" y1="273.1" x2="388.8" y2="273.1" stroke="#111" stroke-width="1.8" stroke-linecap="butt"/>
<line x1="340.5" y1="268.6" x2="340.5" y2="277.6" stroke="#111" stroke-width="1.8" stroke-linecap="butt"/>
<line x1="388.8" y1="268.6" x2="388.8" y2="277.6" stroke="#111" stroke-width="1.8" stroke-linecap="butt"/>
<text x="362.95" y="276" font-size="17.5" text-anchor="middle" font-weight="normal" fill="#111">**</text>
<line x1="363.4" y1="288.8" x2="388.8" y2="288.8" stroke="#111" stroke-width="1.8" stroke-linecap="butt"/>
<line x1="363.4" y1="284.3" x2="363.4" y2="293.3" stroke="#111" stroke-width="1.8" stroke-linecap="butt"/>
<line x1="388.8" y1="284.3" x2="388.8" y2="293.3" stroke="#111" stroke-width="1.8" stroke-linecap="butt"/>
<text x="374.8" y="292.4" font-size="17.5" text-anchor="middle" font-weight="normal" fill="#111">**</text>
<line x1="425.8" y1="273.1" x2="474.6" y2="273.1" stroke="#111" stroke-width="1.8" stroke-linecap="butt"/>
<line x1="425.8" y1="268.6" x2="425.8" y2="277.6" stroke="#111" stroke-width="1.8" stroke-linecap="butt"/>
<line x1="474.6" y1="268.6" x2="474.6" y2="277.6" stroke="#111" stroke-width="1.8" stroke-linecap="butt"/>
<text x="449.90000000000003" y="276.7" font-size="17.5" text-anchor="middle" font-weight="normal" fill="#111">**</text>
<line x1="448.4" y1="289.3" x2="474.6" y2="289.3" stroke="#111" stroke-width="1.8" stroke-linecap="butt"/>
<line x1="448.4" y1="284.8" x2="448.4" y2="293.8" stroke="#111" stroke-width="1.8" stroke-linecap="butt"/>
<line x1="474.6" y1="284.8" x2="474.6" y2="293.8" stroke="#111" stroke-width="1.8" stroke-linecap="butt"/>
<text x="460.2" y="293.6" font-size="17.5" text-anchor="middle" font-weight="normal" fill="#111">**</text>
<text x="411" y="356.2" font-size="10.8" text-anchor="middle" font-weight="normal" fill="#363636">C57BL/6</text>
</g>
<g id="panelE">
<text x="256.4" y="365.2" font-size="11.3" text-anchor="start" font-weight="bold" fill="#111">E)</text>
<text x="283.6" y="435.5" font-size="10.9" text-anchor="middle" font-weight="normal" fill="#363636" transform="rotate(-90 283.6 435.5)">Relative expression (mRNA)</text>
<line x1="320" y1="377.5" x2="320" y2="428.5" stroke="#111" stroke-width="1.7" stroke-linecap="butt"/>
<line x1="320" y1="441.3" x2="320" y2="493.6" stroke="#111" stroke-width="1.7" stroke-linecap="butt"/>
<line x1="316" y1="432.5" x2="323.8" y2="425.5" stroke="#111" stroke-width="1.5" stroke-linecap="butt"/>
<line x1="316" y1="445" x2="323.8" y2="438" stroke="#111" stroke-width="1.5" stroke-linecap="butt"/>
<line x1="319.2" y1="492.8" x2="492.8" y2="492.8" stroke="#111" stroke-width="1.7" stroke-linecap="butt"/>
<line x1="315.5" y1="378.2" x2="320" y2="378.2" stroke="#111" stroke-width="1.7" stroke-linecap="butt"/>
<text x="314.4" y="381.7" font-size="9.8" text-anchor="end" font-weight="normal" fill="#363636">0.3</text>
<line x1="315.5" y1="398" x2="320" y2="398" stroke="#111" stroke-width="1.7" stroke-linecap="butt"/>
<text x="314.4" y="401.5" font-size="9.8" text-anchor="end" font-weight="normal" fill="#363636">0.2</text>
<line x1="315.5" y1="417.6" x2="320" y2="417.6" stroke="#111" stroke-width="1.7" stroke-linecap="butt"/>
<text x="314.4" y="421.1" font-size="9.8" text-anchor="end" font-weight="normal" fill="#363636">0.1</text>
<text x="314.4" y="445.1" font-size="9.8" text-anchor="end" font-weight="normal" fill="#363636">0.04</text>
<line x1="315.5" y1="467.2" x2="320" y2="467.2" stroke="#111" stroke-width="1.7" stroke-linecap="butt"/>
<text x="314.4" y="470.7" font-size="9.8" text-anchor="end" font-weight="normal" fill="#363636">0.02</text>
<line x1="315.5" y1="492.8" x2="320" y2="492.8" stroke="#111" stroke-width="1.7" stroke-linecap="butt"/>
<text x="314.4" y="496.3" font-size="9.8" text-anchor="end" font-weight="normal" fill="#363636">0.00</text>
<line x1="426.3" y1="422.6" x2="426.3" y2="424.5" stroke="#111" stroke-width="1.8" stroke-linecap="butt"/>
<line x1="421.55" y1="422.6" x2="431.05" y2="422.6" stroke="#111" stroke-width="1.8" stroke-linecap="butt"/>
<path d="M419.5 428.8 V425.4 H433.1 V428.8" fill="#fff" stroke="#111" stroke-width="1.8"/>
<line x1="449.9" y1="424.1" x2="449.9" y2="426.2" stroke="#111" stroke-width="1.8" stroke-linecap="butt"/>
<line x1="445.15" y1="424.1" x2="454.65" y2="424.1" stroke="#111" stroke-width="1.8" stroke-linecap="butt"/>
<path d="M443.09999999999997 428.8 V427.09999999999997 H456.70000000000005 V428.8" fill="#858a8b" stroke="#111" stroke-width="1.8"/>
<line x1="473.2" y1="406.8" x2="473.2" y2="412.6" stroke="#111" stroke-width="1.8" stroke-linecap="butt"/>
<line x1="468.45" y1="406.8" x2="477.95" y2="406.8" stroke="#111" stroke-width="1.8" stroke-linecap="butt"/>
<path d="M466.29999999999995 428.8 V413.5 H480.1 V428.8" fill="#000" stroke="#111" stroke-width="1.8"/>
<path d="M419.5 442 V492.8 M433.1 442 V492.8" stroke="#111" stroke-width="1.8" fill="none"/>
<rect x="420.40000000000003" y="442" width="11.799999999999978" height="50.80000000000001" fill="#fff"/>
<path d="M443.09999999999997 442 V492.8 M456.70000000000005 442 V492.8" stroke="#111" stroke-width="1.8" fill="none"/>
<rect x="444.0" y="442" width="11.800000000000034" height="50.80000000000001" fill="#858a8b"/>
<path d="M466.29999999999995 442 V492.8 M480.1 442 V492.8" stroke="#111" stroke-width="1.8" fill="none"/>
<rect x="467.2" y="442" width="12.000000000000023" height="50.80000000000001" fill="#000"/>
<line x1="339.6" y1="474.8" x2="339.6" y2="478.5" stroke="#111" stroke-width="1.8" stroke-linecap="butt"/>
<line x1="335.3" y1="474.8" x2="343.90000000000003" y2="474.8" stroke="#111" stroke-width="1.8" stroke-linecap="butt"/>
<rect x="333.09999999999997" y="479.4" width="13.00000000000001" height="13.400000000000011" fill="#fff" stroke="#111" stroke-width="1.8"/>
<line x1="363.25" y1="483.2" x2="363.25" y2="487.9" stroke="#111" stroke-width="1.8" stroke-linecap="butt"/>
<line x1="358.95" y1="483.2" x2="367.55" y2="483.2" stroke="#111" stroke-width="1.8" stroke-linecap="butt"/>
<rect x="356.7" y="488.79999999999995" width="13.099999999999977" height="4.000000000000034" fill="#858a8b" stroke="#111" stroke-width="1.8"/>
<line x1="386.75" y1="474.2" x2="386.75" y2="479.6" stroke="#111" stroke-width="1.8" stroke-linecap="butt"/>
<line x1="382.45" y1="474.2" x2="391.05" y2="474.2" stroke="#111" stroke-width="1.8" stroke-linecap="butt"/>
<rect x="380.09999999999997" y="480.5" width="13.300000000000022" height="12.299999999999988" fill="#000" stroke="#111" stroke-width="1.8"/>
<line x1="338.7" y1="465.2" x2="386.6" y2="465.2" stroke="#111" stroke-width="1.8" stroke-linecap="butt"/>
<line x1="338.7" y1="460.2" x2="338.7" y2="470" stroke="#111" stroke-width="1.8" stroke-linecap="butt"/>
<line x1="362.6" y1="460.2" x2="362.6" y2="470" stroke="#111" stroke-width="1.8" stroke-linecap="butt"/>
<line x1="386.6" y1="460.2" x2="386.6" y2="470" stroke="#111" stroke-width="1.8" stroke-linecap="butt"/>
<text x="350" y="467.2" font-size="12.6" text-anchor="middle" font-weight="normal" fill="#111">*</text>
<text x="372.8" y="467.2" font-size="12.6" text-anchor="middle" font-weight="normal" fill="#111">*</text>
<line x1="425.5" y1="386" x2="474.8" y2="386" stroke="#111" stroke-width="1.8" stroke-linecap="butt"/>
<line x1="425.5" y1="381.5" x2="425.5" y2="390.5" stroke="#111" stroke-width="1.8" stroke-linecap="butt"/>
<line x1="474.8" y1="381.5" x2="474.8" y2="390.5" stroke="#111" stroke-width="1.8" stroke-linecap="butt"/>
<text x="448.95" y="389.1" font-size="14.5" text-anchor="middle" font-weight="normal" fill="#111">***</text>
<line x1="453.5" y1="398.2" x2="473.7" y2="398.2" stroke="#111" stroke-width="1.8" stroke-linecap="butt"/>
<line x1="453.5" y1="393.8" x2="453.5" y2="402.59999999999997" stroke="#111" stroke-width="1.8" stroke-linecap="butt"/>
<line x1="473.7" y1="393.8" x2="473.7" y2="402.59999999999997" stroke="#111" stroke-width="1.8" stroke-linecap="butt"/>
<text x="463.6" y="401.4" font-size="14.5" text-anchor="middle" font-weight="normal" fill="#111">***</text>
<line x1="362.8" y1="492.8" x2="362.8" y2="497.3" stroke="#111" stroke-width="1.7" stroke-linecap="butt"/>
<text x="361.8" y="507.40000000000003" font-size="9.8" text-anchor="middle" font-weight="normal" fill="#363636">9 weeks</text>
<line x1="449.7" y1="492.8" x2="449.7" y2="497.3" stroke="#111" stroke-width="1.7" stroke-linecap="butt"/>
<text x="449.6" y="507.40000000000003" font-size="9.8" text-anchor="middle" font-weight="normal" fill="#363636">15 weeks</text>
<text x="406.4" y="522.5" font-size="10.8" text-anchor="middle" font-weight="normal" fill="#363636">MRL/lpr</text>
<rect x="318.2" y="537" width="15.2" height="4.9" fill="#fff" stroke="#111" stroke-width="1.8"/>
<text x="342.2" y="542.6" font-size="9.9" text-anchor="start" font-weight="normal" fill="#363636">Pro-B</text>
<rect x="372.6" y="537" width="15.3" height="4.9" fill="#858a8b" stroke="#111" stroke-width="1.8"/>
<text x="397.2" y="542.6" font-size="9.9" text-anchor="start" font-weight="normal" fill="#363636">Pre-B</text>
<rect x="429.5" y="536.1" width="16.3" height="6.7" fill="#000"/>
<text x="453.9" y="542.6" font-size="9.9" text-anchor="start" font-weight="normal" fill="#363636">Immature</text>
</g>
</svg>
</body></html>
